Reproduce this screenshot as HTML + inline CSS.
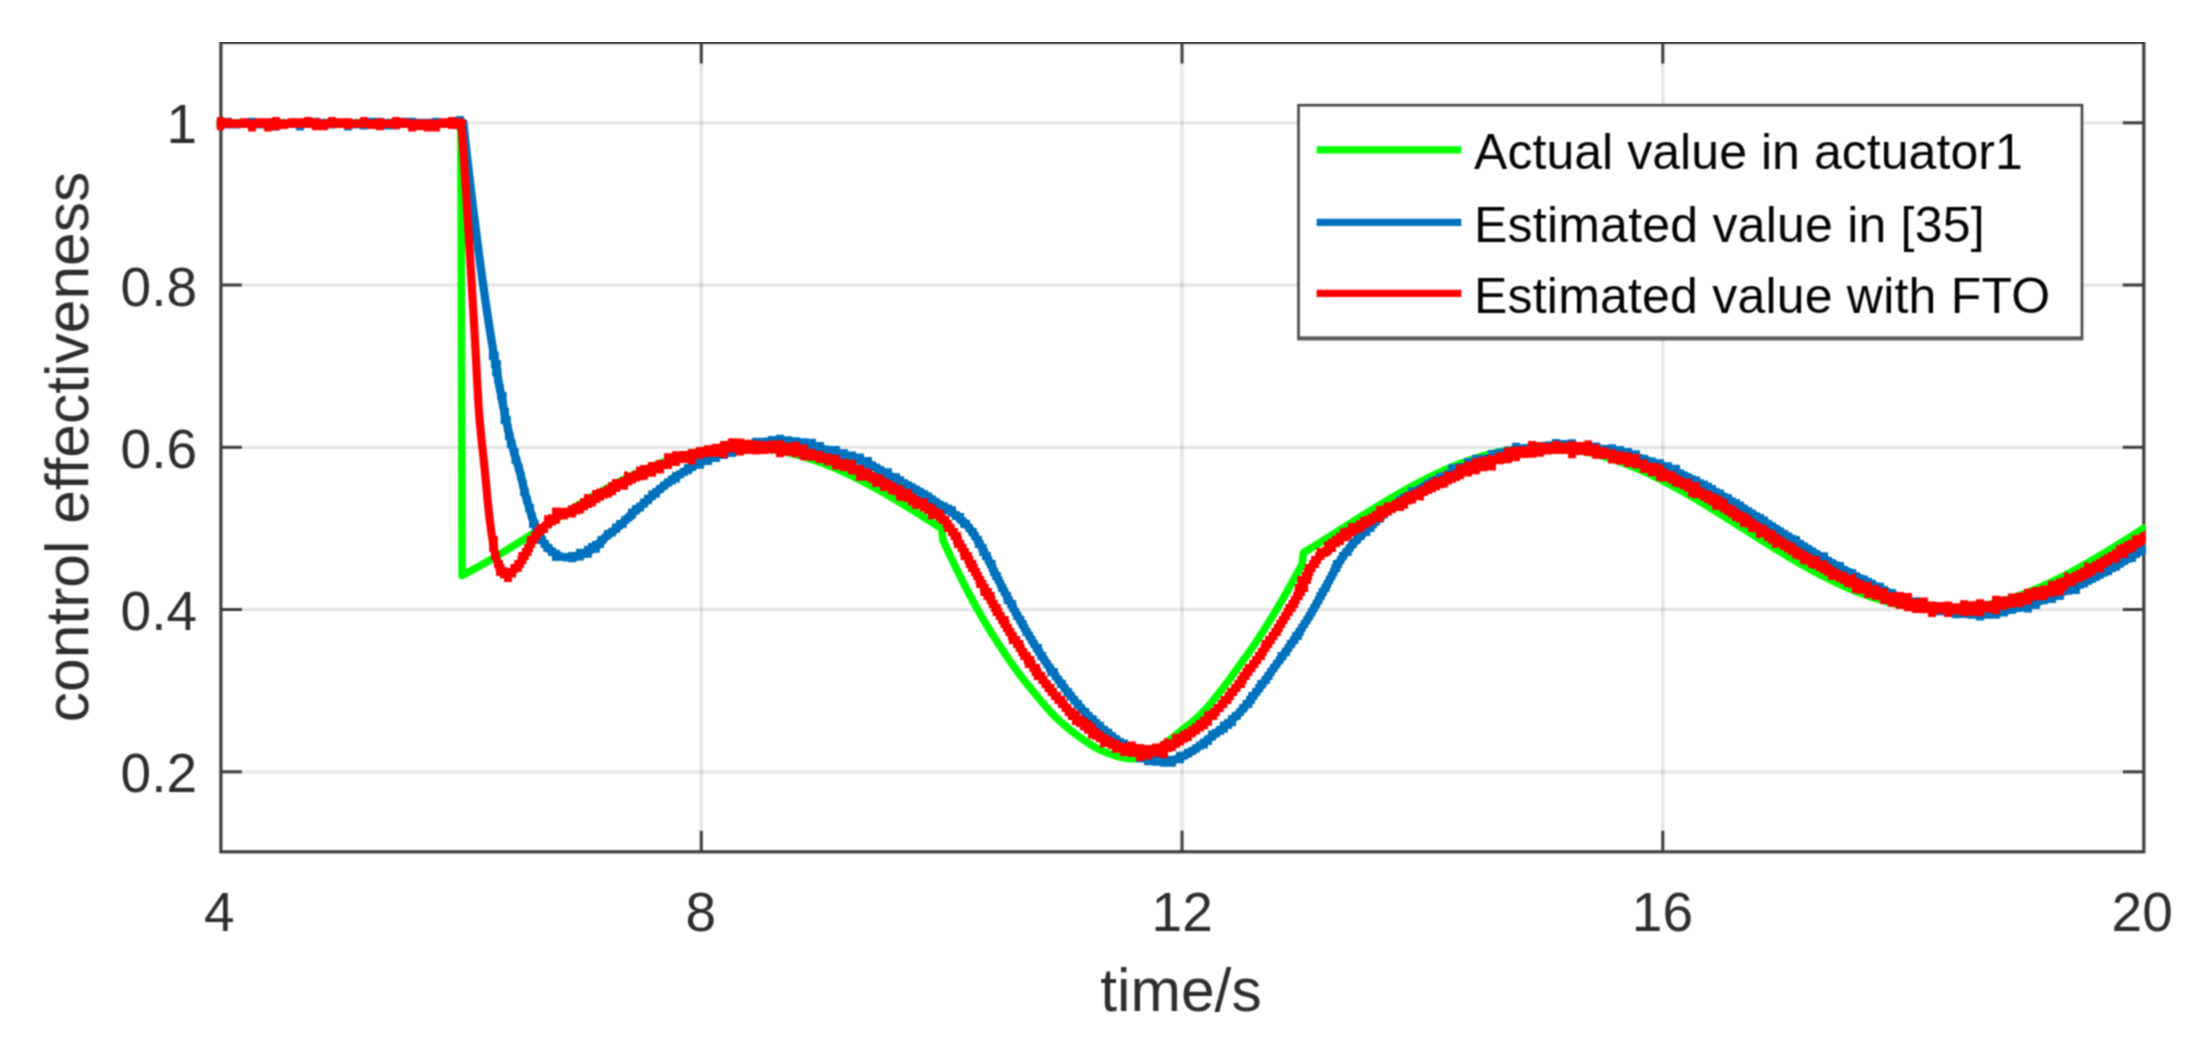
<!DOCTYPE html>
<html><head><meta charset="utf-8"><title>control effectiveness</title>
<style>
html,body{margin:0;padding:0;background:#fff;}
body{width:2208px;height:1056px;overflow:hidden;}
svg{display:block;font-family:"Liberation Sans",sans-serif;}
</style></head><body>
<svg width="2208" height="1056" viewBox="0 0 2208 1056">
<defs><filter id="soft0" x="0" y="0" width="100%" height="100%" color-interpolation-filters="sRGB"><feConvolveMatrix order="3" kernelMatrix="1 2 1 2 4 2 1 2 1" edgeMode="duplicate"/></filter></defs>
<rect width="2208" height="1056" fill="#fff"/>
<g id="all" filter="url(#soft0)">
<g id="grid">
<line x1="701.3" x2="701.3" y1="42.5" y2="851.8" stroke="#262626" stroke-opacity="0.118" stroke-width="3.3"/>
<line x1="1182.0" x2="1182.0" y1="42.5" y2="851.8" stroke="#262626" stroke-opacity="0.118" stroke-width="3.3"/>
<line x1="1662.8" x2="1662.8" y1="42.5" y2="851.8" stroke="#262626" stroke-opacity="0.118" stroke-width="3.3"/>
<line x1="220.9" x2="2143.8" y1="771.8" y2="771.8" stroke="#262626" stroke-opacity="0.118" stroke-width="3.3"/>
<line x1="220.9" x2="2143.8" y1="609.5" y2="609.5" stroke="#262626" stroke-opacity="0.118" stroke-width="3.3"/>
<line x1="220.9" x2="2143.8" y1="447.3" y2="447.3" stroke="#262626" stroke-opacity="0.118" stroke-width="3.3"/>
<line x1="220.9" x2="2143.8" y1="285.0" y2="285.0" stroke="#262626" stroke-opacity="0.118" stroke-width="3.3"/>
<line x1="220.9" x2="2143.8" y1="122.8" y2="122.8" stroke="#262626" stroke-opacity="0.118" stroke-width="3.3"/>
</g>
<g id="axes">
<rect x="220.9" y="42.5" width="1922.9" height="809.3" fill="none" stroke="#3e3e3e" stroke-width="3.2"/>
<line x1="701.3" x2="701.3" y1="851.8" y2="830.8" stroke="#3e3e3e" stroke-width="3"/>
<line x1="701.3" x2="701.3" y1="42.5" y2="63.5" stroke="#3e3e3e" stroke-width="3"/>
<line x1="1182.0" x2="1182.0" y1="851.8" y2="830.8" stroke="#3e3e3e" stroke-width="3"/>
<line x1="1182.0" x2="1182.0" y1="42.5" y2="63.5" stroke="#3e3e3e" stroke-width="3"/>
<line x1="1662.8" x2="1662.8" y1="851.8" y2="830.8" stroke="#3e3e3e" stroke-width="3"/>
<line x1="1662.8" x2="1662.8" y1="42.5" y2="63.5" stroke="#3e3e3e" stroke-width="3"/>
<line x1="220.9" x2="241.9" y1="771.8" y2="771.8" stroke="#3e3e3e" stroke-width="3"/>
<line x1="2143.8" x2="2122.8" y1="771.8" y2="771.8" stroke="#3e3e3e" stroke-width="3"/>
<line x1="220.9" x2="241.9" y1="609.5" y2="609.5" stroke="#3e3e3e" stroke-width="3"/>
<line x1="2143.8" x2="2122.8" y1="609.5" y2="609.5" stroke="#3e3e3e" stroke-width="3"/>
<line x1="220.9" x2="241.9" y1="447.3" y2="447.3" stroke="#3e3e3e" stroke-width="3"/>
<line x1="2143.8" x2="2122.8" y1="447.3" y2="447.3" stroke="#3e3e3e" stroke-width="3"/>
<line x1="220.9" x2="241.9" y1="285.0" y2="285.0" stroke="#3e3e3e" stroke-width="3"/>
<line x1="2143.8" x2="2122.8" y1="285.0" y2="285.0" stroke="#3e3e3e" stroke-width="3"/>
<line x1="220.9" x2="241.9" y1="122.8" y2="122.8" stroke="#3e3e3e" stroke-width="3"/>
<line x1="2143.8" x2="2122.8" y1="122.8" y2="122.8" stroke="#3e3e3e" stroke-width="3"/>
</g>
<clipPath id="cl"><rect x="216.7" y="30" width="1929.1" height="830"/></clipPath>
<g id="curves" clip-path="url(#cl)" fill="none" stroke-linejoin="round">
<path stroke="#00ff00" stroke-width="7.6" d="M215.7 122.8L216.9 122.8L218.1 122.8L219.3 122.8L220.5 122.8L221.7 122.8L222.9 122.8L224.1 122.8L225.3 122.8L226.5 122.8L227.7 122.8L228.9 122.8L230.1 122.8L231.3 122.8L232.5 122.8L233.7 122.8L234.9 122.8L236.1 122.8L237.3 122.8L238.5 122.8L239.7 122.8L240.9 122.8L242.1 122.8L243.3 122.8L244.5 122.8L245.7 122.8L246.9 122.8L248.1 122.8L249.3 122.8L250.5 122.8L251.8 122.8L253.0 122.8L254.2 122.8L255.4 122.8L256.6 122.8L257.8 122.8L259.0 122.8L260.2 122.8L261.4 122.8L262.6 122.8L263.8 122.8L265.0 122.8L266.2 122.8L267.4 122.8L268.6 122.8L269.8 122.8L271.0 122.8L272.2 122.8L273.4 122.8L274.6 122.8L275.8 122.8L277.0 122.8L278.2 122.8L279.4 122.8L280.6 122.8L281.8 122.8L283.0 122.8L284.2 122.8L285.4 122.8L286.6 122.8L287.8 122.8L289.0 122.8L290.2 122.8L291.4 122.8L292.6 122.8L293.8 122.8L295.0 122.8L296.2 122.8L297.4 122.8L298.6 122.8L299.8 122.8L301.0 122.8L302.2 122.8L303.4 122.8L304.6 122.8L305.8 122.8L307.0 122.8L308.2 122.8L309.4 122.8L310.6 122.8L311.8 122.8L313.0 122.8L314.3 122.8L315.5 122.8L316.7 122.8L317.9 122.8L319.1 122.8L320.3 122.8L321.5 122.8L322.7 122.8L323.9 122.8L325.1 122.8L326.3 122.8L327.5 122.8L328.7 122.8L329.9 122.8L331.1 122.8L332.3 122.8L333.5 122.8L334.7 122.8L335.9 122.8L337.1 122.8L338.3 122.8L339.5 122.8L340.7 122.8L341.9 122.8L343.1 122.8L344.3 122.8L345.5 122.8L346.7 122.8L347.9 122.8L349.1 122.8L350.3 122.8L351.5 122.8L352.7 122.8L353.9 122.8L355.1 122.8L356.3 122.8L357.5 122.8L358.7 122.8L359.9 122.8L361.1 122.8L362.3 122.8L363.5 122.8L364.7 122.8L365.9 122.8L367.1 122.8L368.3 122.8L369.5 122.8L370.7 122.8L371.9 122.8L373.1 122.8L374.3 122.8L375.5 122.8L376.8 122.8L378.0 122.8L379.2 122.8L380.4 122.8L381.6 122.8L382.8 122.8L384.0 122.8L385.2 122.8L386.4 122.8L387.6 122.8L388.8 122.8L390.0 122.8L391.2 122.8L392.4 122.8L393.6 122.8L394.8 122.8L396.0 122.8L397.2 122.8L398.4 122.8L399.6 122.8L400.8 122.8L402.0 122.8L403.2 122.8L404.4 122.8L405.6 122.8L406.8 122.8L408.0 122.8L409.2 122.8L410.4 122.8L411.6 122.8L412.8 122.8L414.0 122.8L415.2 122.8L416.4 122.8L417.6 122.8L418.8 122.8L420.0 122.8L421.2 122.8L422.4 122.8L423.6 122.8L424.8 122.8L426.0 122.8L427.2 122.8L428.4 122.8L429.6 122.8L430.8 122.8L432.0 122.8L433.2 122.8L434.4 122.8L435.6 122.8L436.8 122.8L438.1 122.8L439.3 122.8L440.5 122.8L441.7 122.8L442.9 122.8L444.1 122.8L445.3 122.8L446.5 122.8L447.7 122.8L448.9 122.8L450.1 122.8L451.3 122.8L452.5 122.8L453.7 122.8L454.9 122.8L456.1 122.8L457.3 122.8L458.5 122.8L459.7 122.8L460.9 122.8L462.1 575.5L463.3 574.9L464.5 574.2L465.7 573.6L466.9 573.0L468.1 572.3L469.3 571.7L470.5 571.0L471.7 570.4L472.9 569.7L474.1 569.1L475.3 568.4L476.5 567.7L477.7 567.1L478.9 566.4L480.1 565.7L481.3 565.0L482.5 564.3L483.7 563.7L484.9 563.0L486.1 562.3L487.3 561.6L488.5 560.9L489.7 560.2L490.9 559.5L492.1 558.8L493.3 558.1L494.5 557.3L495.7 556.6L496.9 555.9L498.1 555.2L499.3 554.5L500.6 553.7L501.8 553.0L503.0 552.3L504.2 551.5L505.4 550.8L506.6 550.1L507.8 549.3L509.0 548.6L510.2 547.9L511.4 547.1L512.6 546.4L513.8 545.6L515.0 544.9L516.2 544.1L517.4 543.4L518.6 542.6L519.8 541.9L521.0 541.1L522.2 540.4L523.4 539.6L524.6 538.8L525.8 538.1L527.0 537.3L528.2 536.6L529.4 535.8L530.6 535.0L531.8 534.3L533.0 533.5L534.2 532.8L535.4 532.0L536.6 531.2L537.8 530.5L539.0 529.7L540.2 528.9L541.4 528.2L542.6 527.4L543.8 526.6L545.0 525.9L546.2 525.1L547.4 524.3L548.6 523.6L549.8 522.8L551.0 522.1L552.2 521.3L553.4 520.5L554.6 519.8L555.8 519.0L557.0 518.3L558.2 517.5L559.4 516.7L560.6 516.0L561.9 515.2L563.1 514.5L564.3 513.7L565.5 513.0L566.7 512.2L567.9 511.5L569.1 510.7L570.3 510.0L571.5 509.2L572.7 508.5L573.9 507.8L575.1 507.0L576.3 506.3L577.5 505.5L578.7 504.8L579.9 504.1L581.1 503.4L582.3 502.6L583.5 501.9L584.7 501.2L585.9 500.5L587.1 499.7L588.3 499.0L589.5 498.3L590.7 497.6L591.9 496.9L593.1 496.2L594.3 495.5L595.5 494.8L596.7 494.1L597.9 493.4L599.1 492.7L600.3 492.0L601.5 491.4L602.7 490.7L603.9 490.0L605.1 489.3L606.3 488.7L607.5 488.0L608.7 487.3L609.9 486.7L611.1 486.0L612.3 485.4L613.5 484.7L614.7 484.1L615.9 483.5L617.1 482.8L618.3 482.2L619.5 481.6L620.7 480.9L621.9 480.3L623.1 479.7L624.4 479.1L625.6 478.5L626.8 477.9L628.0 477.3L629.2 476.7L630.4 476.1L631.6 475.5L632.8 475.0L634.0 474.4L635.2 473.8L636.4 473.3L637.6 472.7L638.8 472.2L640.0 471.6L641.2 471.1L642.4 470.5L643.6 470.0L644.8 469.5L646.0 468.9L647.2 468.4L648.4 467.9L649.6 467.4L650.8 466.9L652.0 466.4L653.2 465.9L654.4 465.4L655.6 465.0L656.8 464.5L658.0 464.0L659.2 463.6L660.4 463.1L661.6 462.6L662.8 462.2L664.0 461.8L665.2 461.3L666.4 460.9L667.6 460.5L668.8 460.1L670.0 459.7L671.2 459.3L672.4 458.9L673.6 458.5L674.8 458.1L676.0 457.7L677.2 457.3L678.4 457.0L679.6 456.6L680.8 456.3L682.0 455.9L683.2 455.6L684.4 455.2L685.6 454.9L686.9 454.6L688.1 454.3L689.3 454.0L690.5 453.7L691.7 453.4L692.9 453.1L694.1 452.8L695.3 452.5L696.5 452.3L697.7 452.0L698.9 451.8L700.1 451.5L701.3 451.3L702.5 451.0L703.7 450.8L704.9 450.6L706.1 450.4L707.3 450.2L708.5 450.0L709.7 449.8L710.9 449.6L712.1 449.4L713.3 449.3L714.5 449.1L715.7 448.9L716.9 448.8L718.1 448.6L719.3 448.5L720.5 448.4L721.7 448.3L722.9 448.1L724.1 448.0L725.3 447.9L726.5 447.8L727.7 447.8L728.9 447.7L730.1 447.6L731.3 447.6L732.5 447.5L733.7 447.4L734.9 447.4L736.1 447.4L737.3 447.3L738.5 447.3L739.7 447.3L740.9 447.3L742.1 447.3L743.3 447.3L744.5 447.3L745.7 447.3L746.9 447.4L748.2 447.4L749.4 447.5L750.6 447.5L751.8 447.6L753.0 447.6L754.2 447.7L755.4 447.8L756.6 447.9L757.8 448.0L759.0 448.1L760.2 448.2L761.4 448.3L762.6 448.4L763.8 448.6L765.0 448.7L766.2 448.8L767.4 449.0L768.6 449.1L769.8 449.3L771.0 449.5L772.2 449.7L773.4 449.8L774.6 450.0L775.8 450.2L777.0 450.5L778.2 450.7L779.4 450.9L780.6 451.1L781.8 451.3L783.0 451.6L784.2 451.8L785.4 452.1L786.6 452.4L787.8 452.6L789.0 452.9L790.2 453.2L791.4 453.5L792.6 453.8L793.8 454.1L795.0 454.4L796.2 454.7L797.4 455.0L798.6 455.3L799.8 455.7L801.0 456.0L802.2 456.4L803.4 456.7L804.6 457.1L805.8 457.5L807.0 457.8L808.2 458.2L809.4 458.6L810.7 459.0L811.9 459.4L813.1 459.8L814.3 460.2L815.5 460.6L816.7 461.0L817.9 461.5L819.1 461.9L820.3 462.3L821.5 462.8L822.7 463.2L823.9 463.7L825.1 464.2L826.3 464.6L827.5 465.1L828.7 465.6L829.9 466.1L831.1 466.6L832.3 467.1L833.5 467.6L834.7 468.1L835.9 468.6L837.1 469.1L838.3 469.6L839.5 470.2L840.7 470.7L841.9 471.2L843.1 471.8L844.3 472.3L845.5 472.9L846.7 473.5L847.9 474.0L849.1 474.6L850.3 475.2L851.5 475.7L852.7 476.3L853.9 476.9L855.1 477.5L856.3 478.1L857.5 478.7L858.7 479.3L859.9 479.9L861.1 480.5L862.3 481.2L863.5 481.8L864.7 482.4L865.9 483.0L867.1 483.7L868.3 484.3L869.5 485.0L870.7 485.6L872.0 486.3L873.2 486.9L874.4 487.6L875.6 488.2L876.8 488.9L878.0 489.6L879.2 490.2L880.4 490.9L881.6 491.6L882.8 492.3L884.0 493.0L885.2 493.7L886.4 494.3L887.6 495.0L888.8 495.7L890.0 496.4L891.2 497.1L892.4 497.9L893.6 498.6L894.8 499.3L896.0 500.0L897.2 500.7L898.4 501.4L899.6 502.1L900.8 502.9L902.0 503.6L903.2 504.3L904.4 505.1L905.6 505.8L906.8 506.5L908.0 507.3L909.2 508.0L910.4 508.7L911.6 509.5L912.8 510.2L914.0 511.0L915.2 511.7L916.4 512.5L917.6 513.2L918.8 514.0L920.0 514.7L921.2 515.5L922.4 516.2L923.6 517.0L924.8 517.8L926.0 518.5L927.2 519.3L928.4 520.0L929.6 520.8L930.8 521.6L932.0 522.3L933.2 523.1L934.5 523.8L935.7 524.6L936.9 525.4L938.1 526.1L939.3 526.9L940.5 527.7L941.7 528.4L942.9 540.0L944.1 542.6L945.3 545.3L946.5 547.9L947.7 550.5L948.9 553.0L950.1 555.6L951.3 558.1L952.5 560.6L953.7 563.1L954.9 565.6L956.1 568.1L957.3 570.5L958.5 573.0L959.7 575.4L960.9 577.8L962.1 580.2L963.3 582.6L964.5 584.9L965.7 587.2L966.9 589.6L968.1 591.9L969.3 594.1L970.5 596.4L971.7 598.6L972.9 600.9L974.1 603.1L975.3 605.3L976.5 607.5L977.7 609.6L978.9 611.7L980.1 613.9L981.3 615.9L982.5 618.0L983.7 620.1L984.9 622.1L986.1 624.1L987.3 626.1L988.5 628.1L989.7 630.0L990.9 632.0L992.1 633.9L993.3 635.8L994.5 637.7L995.7 639.6L997.0 641.5L998.2 643.3L999.4 645.2L1000.6 647.0L1001.8 648.9L1003.0 650.7L1004.2 652.5L1005.4 654.3L1006.6 656.1L1007.8 657.9L1009.0 659.6L1010.2 661.4L1011.4 663.1L1012.6 664.8L1013.8 666.5L1015.0 668.2L1016.2 669.8L1017.4 671.5L1018.6 673.1L1019.8 674.7L1021.0 676.3L1022.2 677.8L1023.4 679.4L1024.6 680.9L1025.8 682.3L1027.0 683.8L1028.2 685.3L1029.4 686.8L1030.6 688.2L1031.8 689.7L1033.0 691.2L1034.2 692.7L1035.4 694.2L1036.6 695.6L1037.8 697.1L1039.0 698.6L1040.2 700.0L1041.4 701.4L1042.6 702.8L1043.8 704.2L1045.0 705.6L1046.2 707.0L1047.4 708.3L1048.6 709.7L1049.8 711.0L1051.0 712.3L1052.2 713.6L1053.4 714.8L1054.6 716.0L1055.8 717.2L1057.0 718.4L1058.3 719.5L1059.5 720.7L1060.7 721.8L1061.9 722.8L1063.1 723.9L1064.3 725.0L1065.5 726.0L1066.7 727.0L1067.9 728.0L1069.1 729.0L1070.3 730.0L1071.5 731.0L1072.7 731.9L1073.9 732.9L1075.1 733.8L1076.3 734.7L1077.5 735.6L1078.7 736.5L1079.9 737.3L1081.1 738.2L1082.3 739.0L1083.5 739.8L1084.7 740.6L1085.9 741.4L1087.1 742.2L1088.3 743.0L1089.5 743.8L1090.7 744.6L1091.9 745.3L1093.1 746.1L1094.3 746.8L1095.5 747.6L1096.7 748.2L1097.9 748.9L1099.1 749.5L1100.3 750.1L1101.5 750.6L1102.7 751.1L1103.9 751.6L1105.1 752.1L1106.3 752.6L1107.5 753.0L1108.7 753.5L1109.9 753.9L1111.1 754.3L1112.3 754.7L1113.5 755.1L1114.7 755.6L1115.9 755.9L1117.1 756.3L1118.3 756.6L1119.5 756.9L1120.8 757.2L1122.0 757.4L1123.2 757.6L1124.4 757.8L1125.6 758.0L1126.8 758.2L1128.0 758.4L1129.2 758.5L1130.4 758.6L1131.6 758.7L1132.8 758.7L1134.0 758.7L1135.2 758.5L1136.4 758.3L1137.6 758.1L1138.8 757.7L1140.0 757.4L1141.2 757.0L1142.4 756.5L1143.6 756.0L1144.8 755.5L1146.0 754.9L1147.2 754.4L1148.4 753.8L1149.6 753.2L1150.8 752.7L1152.0 752.1L1153.2 751.5L1154.4 750.8L1155.6 750.2L1156.8 749.4L1158.0 748.7L1159.2 747.9L1160.4 747.0L1161.6 746.2L1162.8 745.3L1164.0 744.4L1165.2 743.5L1166.4 742.6L1167.6 741.7L1168.8 740.7L1170.0 739.8L1171.2 738.9L1172.4 738.0L1173.6 737.0L1174.8 736.0L1176.0 735.0L1177.2 734.0L1178.4 733.0L1179.6 732.0L1180.8 731.0L1182.0 730.0L1183.3 729.0L1184.5 728.1L1185.7 727.1L1186.9 726.2L1188.1 725.3L1189.3 724.3L1190.5 723.4L1191.7 722.4L1192.9 721.5L1194.1 720.4L1195.3 719.4L1196.5 718.3L1197.7 717.2L1198.9 716.0L1200.1 714.9L1201.3 713.6L1202.5 712.4L1203.7 711.2L1204.9 709.9L1206.1 708.6L1207.3 707.3L1208.5 705.9L1209.7 704.5L1210.9 703.1L1212.1 701.6L1213.3 700.2L1214.5 698.7L1215.7 697.2L1216.9 695.7L1218.1 694.2L1219.3 692.7L1220.5 691.2L1221.7 689.6L1222.9 688.1L1224.1 686.5L1225.3 684.9L1226.5 683.4L1227.7 681.8L1228.9 680.2L1230.1 678.5L1231.3 676.9L1232.5 675.2L1233.7 673.5L1234.9 671.8L1236.1 670.1L1237.3 668.4L1238.5 666.7L1239.7 665.1L1240.9 663.4L1242.1 661.7L1243.3 660.1L1244.6 658.4L1245.8 656.8L1247.0 655.1L1248.2 653.4L1249.4 651.7L1250.6 650.0L1251.8 648.3L1253.0 646.5L1254.2 644.8L1255.4 643.0L1256.6 641.2L1257.8 639.4L1259.0 637.6L1260.2 635.7L1261.4 633.9L1262.6 632.0L1263.8 630.1L1265.0 628.2L1266.2 626.3L1267.4 624.4L1268.6 622.5L1269.8 620.6L1271.0 618.6L1272.2 616.6L1273.4 614.7L1274.6 612.7L1275.8 610.7L1277.0 608.7L1278.2 606.7L1279.4 604.6L1280.6 602.6L1281.8 600.5L1283.0 598.5L1284.2 596.4L1285.4 594.3L1286.6 592.2L1287.8 590.1L1289.0 588.0L1290.2 585.9L1291.4 583.8L1292.6 581.6L1293.8 579.4L1295.0 577.3L1296.2 575.1L1297.4 572.9L1298.6 570.7L1299.8 568.5L1301.0 566.3L1302.2 564.0L1303.4 552.8L1304.6 552.0L1305.8 551.3L1307.1 550.6L1308.3 549.8L1309.5 549.1L1310.7 548.4L1311.9 547.6L1313.1 546.9L1314.3 546.1L1315.5 545.4L1316.7 544.6L1317.9 543.9L1319.1 543.1L1320.3 542.4L1321.5 541.6L1322.7 540.9L1323.9 540.1L1325.1 539.4L1326.3 538.6L1327.5 537.8L1328.7 537.1L1329.9 536.3L1331.1 535.6L1332.3 534.8L1333.5 534.0L1334.7 533.3L1335.9 532.5L1337.1 531.7L1338.3 531.0L1339.5 530.2L1340.7 529.4L1341.9 528.7L1343.1 527.9L1344.3 527.2L1345.5 526.4L1346.7 525.6L1347.9 524.9L1349.1 524.1L1350.3 523.3L1351.5 522.6L1352.7 521.8L1353.9 521.0L1355.1 520.3L1356.3 519.5L1357.5 518.8L1358.7 518.0L1359.9 517.2L1361.1 516.5L1362.3 515.7L1363.5 515.0L1364.7 514.2L1365.9 513.5L1367.1 512.7L1368.4 512.0L1369.6 511.2L1370.8 510.5L1372.0 509.7L1373.2 509.0L1374.4 508.3L1375.6 507.5L1376.8 506.8L1378.0 506.0L1379.2 505.3L1380.4 504.6L1381.6 503.8L1382.8 503.1L1384.0 502.4L1385.2 501.7L1386.4 500.9L1387.6 500.2L1388.8 499.5L1390.0 498.8L1391.2 498.1L1392.4 497.4L1393.6 496.7L1394.8 496.0L1396.0 495.3L1397.2 494.6L1398.4 493.9L1399.6 493.2L1400.8 492.5L1402.0 491.8L1403.2 491.1L1404.4 490.5L1405.6 489.8L1406.8 489.1L1408.0 488.5L1409.2 487.8L1410.4 487.1L1411.6 486.5L1412.8 485.8L1414.0 485.2L1415.2 484.5L1416.4 483.9L1417.6 483.2L1418.8 482.6L1420.0 482.0L1421.2 481.4L1422.4 480.7L1423.6 480.1L1424.8 479.5L1426.0 478.9L1427.2 478.3L1428.4 477.7L1429.6 477.1L1430.9 476.5L1432.1 475.9L1433.3 475.4L1434.5 474.8L1435.7 474.2L1436.9 473.6L1438.1 473.1L1439.3 472.5L1440.5 472.0L1441.7 471.4L1442.9 470.9L1444.1 470.3L1445.3 469.8L1446.5 469.3L1447.7 468.8L1448.9 468.3L1450.1 467.7L1451.3 467.2L1452.5 466.7L1453.7 466.2L1454.9 465.8L1456.1 465.3L1457.3 464.8L1458.5 464.3L1459.7 463.9L1460.9 463.4L1462.1 462.9L1463.3 462.5L1464.5 462.1L1465.7 461.6L1466.9 461.2L1468.1 460.8L1469.3 460.3L1470.5 459.9L1471.7 459.5L1472.9 459.1L1474.1 458.7L1475.3 458.3L1476.5 458.0L1477.7 457.6L1478.9 457.2L1480.1 456.8L1481.3 456.5L1482.5 456.1L1483.7 455.8L1484.9 455.5L1486.1 455.1L1487.3 454.8L1488.5 454.5L1489.7 454.2L1490.9 453.9L1492.1 453.6L1493.4 453.3L1494.6 453.0L1495.8 452.7L1497.0 452.4L1498.2 452.2L1499.4 451.9L1500.6 451.7L1501.8 451.4L1503.0 451.2L1504.2 451.0L1505.4 450.7L1506.6 450.5L1507.8 450.3L1509.0 450.1L1510.2 449.9L1511.4 449.7L1512.6 449.5L1513.8 449.4L1515.0 449.2L1516.2 449.0L1517.4 448.9L1518.6 448.7L1519.8 448.6L1521.0 448.5L1522.2 448.3L1523.4 448.2L1524.6 448.1L1525.8 448.0L1527.0 447.9L1528.2 447.8L1529.4 447.7L1530.6 447.7L1531.8 447.6L1533.0 447.5L1534.2 447.5L1535.4 447.4L1536.6 447.4L1537.8 447.4L1539.0 447.3L1540.2 447.3L1541.4 447.3L1542.6 447.3L1543.8 447.3L1545.0 447.3L1546.2 447.3L1547.4 447.4L1548.6 447.4L1549.8 447.4L1551.0 447.5L1552.2 447.5L1553.4 447.6L1554.7 447.7L1555.9 447.7L1557.1 447.8L1558.3 447.9L1559.5 448.0L1560.7 448.1L1561.9 448.2L1563.1 448.3L1564.3 448.5L1565.5 448.6L1566.7 448.7L1567.9 448.9L1569.1 449.0L1570.3 449.2L1571.5 449.4L1572.7 449.5L1573.9 449.7L1575.1 449.9L1576.3 450.1L1577.5 450.3L1578.7 450.5L1579.9 450.7L1581.1 451.0L1582.3 451.2L1583.5 451.4L1584.7 451.7L1585.9 451.9L1587.1 452.2L1588.3 452.4L1589.5 452.7L1590.7 453.0L1591.9 453.3L1593.1 453.6L1594.3 453.9L1595.5 454.2L1596.7 454.5L1597.9 454.8L1599.1 455.1L1600.3 455.5L1601.5 455.8L1602.7 456.1L1603.9 456.5L1605.1 456.8L1606.3 457.2L1607.5 457.6L1608.7 458.0L1609.9 458.3L1611.1 458.7L1612.3 459.1L1613.5 459.5L1614.7 459.9L1615.9 460.3L1617.2 460.8L1618.4 461.2L1619.6 461.6L1620.8 462.1L1622.0 462.5L1623.2 462.9L1624.4 463.4L1625.6 463.9L1626.8 464.3L1628.0 464.8L1629.2 465.3L1630.4 465.8L1631.6 466.2L1632.8 466.7L1634.0 467.2L1635.2 467.7L1636.4 468.3L1637.6 468.8L1638.8 469.3L1640.0 469.8L1641.2 470.3L1642.4 470.9L1643.6 471.4L1644.8 472.0L1646.0 472.5L1647.2 473.1L1648.4 473.6L1649.6 474.2L1650.8 474.8L1652.0 475.4L1653.2 475.9L1654.4 476.5L1655.6 477.1L1656.8 477.7L1658.0 478.3L1659.2 478.9L1660.4 479.5L1661.6 480.1L1662.8 480.7L1664.0 481.4L1665.2 482.0L1666.4 482.6L1667.6 483.2L1668.8 483.9L1670.0 484.5L1671.2 485.2L1672.4 485.8L1673.6 486.5L1674.8 487.1L1676.0 487.8L1677.2 488.5L1678.5 489.1L1679.7 489.8L1680.9 490.5L1682.1 491.1L1683.3 491.8L1684.5 492.5L1685.7 493.2L1686.9 493.9L1688.1 494.6L1689.3 495.3L1690.5 496.0L1691.7 496.7L1692.9 497.4L1694.1 498.1L1695.3 498.8L1696.5 499.5L1697.7 500.2L1698.9 500.9L1700.1 501.7L1701.3 502.4L1702.5 503.1L1703.7 503.8L1704.9 504.6L1706.1 505.3L1707.3 506.0L1708.5 506.8L1709.7 507.5L1710.9 508.3L1712.1 509.0L1713.3 509.7L1714.5 510.5L1715.7 511.2L1716.9 512.0L1718.1 512.7L1719.3 513.5L1720.5 514.2L1721.7 515.0L1722.9 515.7L1724.1 516.5L1725.3 517.2L1726.5 518.0L1727.7 518.8L1728.9 519.5L1730.1 520.3L1731.3 521.0L1732.5 521.8L1733.7 522.6L1734.9 523.3L1736.1 524.1L1737.3 524.9L1738.5 525.6L1739.7 526.4L1741.0 527.2L1742.2 527.9L1743.4 528.7L1744.6 529.4L1745.8 530.2L1747.0 531.0L1748.2 531.7L1749.4 532.5L1750.6 533.3L1751.8 534.0L1753.0 534.8L1754.2 535.6L1755.4 536.3L1756.6 537.1L1757.8 537.8L1759.0 538.6L1760.2 539.4L1761.4 540.1L1762.6 540.9L1763.8 541.6L1765.0 542.4L1766.2 543.1L1767.4 543.9L1768.6 544.6L1769.8 545.4L1771.0 546.1L1772.2 546.9L1773.4 547.6L1774.6 548.4L1775.8 549.1L1777.0 549.8L1778.2 550.6L1779.4 551.3L1780.6 552.0L1781.8 552.8L1783.0 553.5L1784.2 554.2L1785.4 554.9L1786.6 555.7L1787.8 556.4L1789.0 557.1L1790.2 557.8L1791.4 558.5L1792.6 559.2L1793.8 559.9L1795.0 560.6L1796.2 561.3L1797.4 562.0L1798.6 562.7L1799.8 563.4L1801.0 564.1L1802.2 564.8L1803.5 565.5L1804.7 566.2L1805.9 566.8L1807.1 567.5L1808.3 568.2L1809.5 568.8L1810.7 569.5L1811.9 570.2L1813.1 570.8L1814.3 571.5L1815.5 572.1L1816.7 572.8L1817.9 573.4L1819.1 574.0L1820.3 574.7L1821.5 575.3L1822.7 575.9L1823.9 576.5L1825.1 577.1L1826.3 577.7L1827.5 578.3L1828.7 578.9L1829.9 579.5L1831.1 580.1L1832.3 580.7L1833.5 581.3L1834.7 581.9L1835.9 582.5L1837.1 583.0L1838.3 583.6L1839.5 584.1L1840.7 584.7L1841.9 585.2L1843.1 585.8L1844.3 586.3L1845.5 586.9L1846.7 587.4L1847.9 587.9L1849.1 588.4L1850.3 588.9L1851.5 589.4L1852.7 589.9L1853.9 590.4L1855.1 590.9L1856.3 591.4L1857.5 591.9L1858.7 592.4L1859.9 592.8L1861.1 593.3L1862.3 593.8L1863.5 594.2L1864.8 594.7L1866.0 595.1L1867.2 595.5L1868.4 595.9L1869.6 596.4L1870.8 596.8L1872.0 597.2L1873.2 597.6L1874.4 598.0L1875.6 598.4L1876.8 598.8L1878.0 599.1L1879.2 599.5L1880.4 599.9L1881.6 600.2L1882.8 600.6L1884.0 600.9L1885.2 601.3L1886.4 601.6L1887.6 601.9L1888.8 602.3L1890.0 602.6L1891.2 602.9L1892.4 603.2L1893.6 603.5L1894.8 603.8L1896.0 604.0L1897.2 604.3L1898.4 604.6L1899.6 604.8L1900.8 605.1L1902.0 605.3L1903.2 605.6L1904.4 605.8L1905.6 606.0L1906.8 606.3L1908.0 606.5L1909.2 606.7L1910.4 606.9L1911.6 607.1L1912.8 607.2L1914.0 607.4L1915.2 607.6L1916.4 607.8L1917.6 607.9L1918.8 608.1L1920.0 608.2L1921.2 608.3L1922.4 608.5L1923.6 608.6L1924.8 608.7L1926.0 608.8L1927.3 608.9L1928.5 609.0L1929.7 609.1L1930.9 609.2L1932.1 609.2L1933.3 609.3L1934.5 609.4L1935.7 609.4L1936.9 609.4L1938.1 609.5L1939.3 609.5L1940.5 609.5L1941.7 609.5L1942.9 609.5L1944.1 609.5L1945.3 609.5L1946.5 609.5L1947.7 609.5L1948.9 609.5L1950.1 609.4L1951.3 609.4L1952.5 609.3L1953.7 609.3L1954.9 609.2L1956.1 609.1L1957.3 609.1L1958.5 609.0L1959.7 608.9L1960.9 608.8L1962.1 608.7L1963.3 608.6L1964.5 608.4L1965.7 608.3L1966.9 608.2L1968.1 608.0L1969.3 607.9L1970.5 607.7L1971.7 607.5L1972.9 607.4L1974.1 607.2L1975.3 607.0L1976.5 606.8L1977.7 606.6L1978.9 606.4L1980.1 606.2L1981.3 606.0L1982.5 605.7L1983.7 605.5L1984.9 605.3L1986.1 605.0L1987.3 604.8L1988.6 604.5L1989.8 604.2L1991.0 603.9L1992.2 603.7L1993.4 603.4L1994.6 603.1L1995.8 602.8L1997.0 602.5L1998.2 602.2L1999.4 601.8L2000.6 601.5L2001.8 601.2L2003.0 600.8L2004.2 600.5L2005.4 600.1L2006.6 599.8L2007.8 599.4L2009.0 599.0L2010.2 598.6L2011.4 598.3L2012.6 597.9L2013.8 597.5L2015.0 597.1L2016.2 596.6L2017.4 596.2L2018.6 595.8L2019.8 595.4L2021.0 594.9L2022.2 594.5L2023.4 594.1L2024.6 593.6L2025.8 593.1L2027.0 592.7L2028.2 592.2L2029.4 591.7L2030.6 591.3L2031.8 590.8L2033.0 590.3L2034.2 589.8L2035.4 589.3L2036.6 588.8L2037.8 588.3L2039.0 587.7L2040.2 587.2L2041.4 586.7L2042.6 586.1L2043.8 585.6L2045.0 585.1L2046.2 584.5L2047.4 584.0L2048.6 583.4L2049.8 582.8L2051.1 582.3L2052.3 581.7L2053.5 581.1L2054.7 580.5L2055.9 579.9L2057.1 579.3L2058.3 578.7L2059.5 578.1L2060.7 577.5L2061.9 576.9L2063.1 576.3L2064.3 575.7L2065.5 575.1L2066.7 574.4L2067.9 573.8L2069.1 573.2L2070.3 572.5L2071.5 571.9L2072.7 571.2L2073.9 570.6L2075.1 569.9L2076.3 569.3L2077.5 568.6L2078.7 568.0L2079.9 567.3L2081.1 566.6L2082.3 565.9L2083.5 565.3L2084.7 564.6L2085.9 563.9L2087.1 563.2L2088.3 562.5L2089.5 561.8L2090.7 561.1L2091.9 560.4L2093.1 559.7L2094.3 559.0L2095.5 558.3L2096.7 557.6L2097.9 556.9L2099.1 556.1L2100.3 555.4L2101.5 554.7L2102.7 554.0L2103.9 553.3L2105.1 552.5L2106.3 551.8L2107.5 551.1L2108.7 550.3L2109.9 549.6L2111.1 548.8L2112.3 548.1L2113.6 547.4L2114.8 546.6L2116.0 545.9L2117.2 545.1L2118.4 544.4L2119.6 543.6L2120.8 542.9L2122.0 542.1L2123.2 541.4L2124.4 540.6L2125.6 539.9L2126.8 539.1L2128.0 538.3L2129.2 537.6L2130.4 536.8L2131.6 536.1L2132.8 535.3L2134.0 534.5L2135.2 533.8L2136.4 533.0L2137.6 532.2L2138.8 531.5L2140.0 530.7L2141.2 530.0L2142.4 529.2L2143.6 528.4L2144.8 527.7L2146.0 526.9"/>
<path stroke="#0072bd" stroke-width="8.4" d="M215.7 123.6L216.9 123.6L218.1 123.6L219.3 123.6L220.5 123.6L221.7 123.6L222.9 123.6L224.1 123.6L225.3 123.6L226.5 123.6L227.7 123.6L228.9 123.6L230.1 123.6L231.3 123.6L232.5 123.6L233.7 123.6L234.9 123.6L236.1 123.6L237.3 123.6L238.5 123.6L239.7 123.6L240.9 123.6L242.1 123.6L243.3 123.6L244.5 123.6L245.7 123.6L246.9 123.6L248.1 123.6L249.3 123.6L250.5 123.6L251.8 123.6L253.0 123.6L254.2 123.6L255.4 123.6L256.6 123.6L257.8 123.6L259.0 123.6L260.2 123.6L261.4 123.6L262.6 123.6L263.8 123.6L265.0 123.6L266.2 123.6L267.4 123.6L268.6 123.6L269.8 123.6L271.0 123.6L272.2 123.6L273.4 123.6L274.6 123.6L275.8 123.6L277.0 123.6L278.2 123.6L279.4 123.6L280.6 123.6L281.8 123.6L283.0 123.6L284.2 123.6L285.4 123.6L286.6 123.6L287.8 123.6L289.0 123.6L290.2 123.6L291.4 123.6L292.6 123.6L293.8 123.6L295.0 123.6L296.2 123.6L297.4 123.6L298.6 123.6L299.8 123.6L301.0 123.6L302.2 123.6L303.4 123.6L304.6 123.6L305.8 123.6L307.0 123.6L308.2 123.6L309.4 123.6L310.6 123.6L311.8 123.6L313.0 123.6L314.3 123.6L315.5 123.6L316.7 123.6L317.9 123.6L319.1 123.6L320.3 123.6L321.5 123.6L322.7 123.6L323.9 123.6L325.1 123.6L326.3 123.6L327.5 123.6L328.7 123.6L329.9 123.6L331.1 123.6L332.3 123.6L333.5 123.6L334.7 123.6L335.9 123.6L337.1 123.6L338.3 123.6L339.5 123.6L340.7 123.6L341.9 123.6L343.1 123.6L344.3 123.6L345.5 123.6L346.7 123.6L347.9 123.6L349.1 123.6L350.3 123.6L351.5 123.6L352.7 123.6L353.9 123.6L355.1 123.6L356.3 123.6L357.5 123.6L358.7 123.6L359.9 123.6L361.1 123.6L362.3 123.6L363.5 123.6L364.7 123.6L365.9 123.6L367.1 123.6L368.3 123.6L369.5 123.6L370.7 123.6L371.9 123.6L373.1 123.6L374.3 123.6L375.5 123.6L376.8 123.6L378.0 123.6L379.2 123.6L380.4 123.6L381.6 123.6L382.8 123.6L384.0 123.6L385.2 123.6L386.4 123.6L387.6 123.6L388.8 123.6L390.0 123.6L391.2 123.6L392.4 123.6L393.6 123.6L394.8 123.6L396.0 123.6L397.2 123.6L398.4 123.6L399.6 123.6L400.8 123.6L402.0 123.6L403.2 123.6L404.4 123.6L405.6 123.6L406.8 123.6L408.0 123.6L409.2 123.6L410.4 123.6L411.6 123.6L412.8 123.6L414.0 123.6L415.2 123.6L416.4 123.6L417.6 123.6L418.8 123.6L420.0 123.6L421.2 123.6L422.4 123.6L423.6 123.6L424.8 123.6L426.0 123.6L427.2 123.6L428.4 123.6L429.6 123.6L430.8 123.6L432.0 123.6L433.2 123.6L434.4 123.6L435.6 123.6L436.8 123.6L438.1 123.6L439.3 123.6L440.5 123.6L441.7 123.6L442.9 123.6L444.1 123.6L445.3 123.6L446.5 123.6L447.7 123.6L448.9 123.6L450.1 123.6L451.3 123.6L452.5 123.6L453.7 123.6L454.9 123.6L456.1 123.6L457.3 123.6L458.5 123.6L459.7 123.6L460.9 123.6L462.1 122.8L463.3 122.8L464.5 134.0L465.7 144.8L466.9 155.4L468.1 165.9L469.3 176.3L470.5 186.5L471.7 196.6L472.9 206.5L474.1 216.2L475.3 225.8L476.5 235.3L477.7 244.6L478.9 253.7L480.1 262.7L481.3 271.5L482.5 280.2L483.7 288.7L484.9 297.1L486.1 305.3L487.3 313.4L488.5 321.2L489.7 329.0L490.9 336.5L492.1 343.9L493.3 351.2L494.5 358.4L495.7 365.4L496.9 372.4L498.1 379.2L499.3 385.8L500.6 392.3L501.8 398.7L503.0 404.9L504.2 410.9L505.4 416.8L506.6 422.4L507.8 427.9L509.0 433.2L510.2 438.2L511.4 443.0L512.6 447.5L513.8 451.6L515.0 455.5L516.2 459.4L517.4 463.3L518.6 467.3L519.8 471.6L521.0 476.2L522.2 481.2L523.4 486.3L524.6 491.3L525.8 495.9L527.0 500.2L528.2 504.4L529.4 508.4L530.6 512.2L531.8 515.8L533.0 519.4L534.2 522.9L535.4 526.3L536.6 529.4L537.8 532.2L539.0 534.6L540.2 536.9L541.4 538.9L542.6 540.9L543.8 542.6L545.0 544.2L546.2 545.7L547.4 547.1L548.6 548.4L549.8 549.6L551.0 550.8L552.2 551.8L553.4 552.7L554.6 553.4L555.8 554.0L557.0 554.7L558.2 555.3L559.4 555.8L560.6 556.3L561.9 556.7L563.1 557.0L564.3 557.2L565.5 557.3L566.7 557.3L567.9 557.3L569.1 557.3L570.3 557.3L571.5 557.3L572.7 557.3L573.9 557.3L575.1 557.1L576.3 556.7L577.5 556.3L578.7 555.8L579.9 555.3L581.1 554.7L582.3 554.1L583.5 553.6L584.7 553.0L585.9 552.5L587.1 551.9L588.3 551.3L589.5 550.7L590.7 550.0L591.9 549.3L593.1 548.5L594.3 547.7L595.5 546.9L596.7 546.0L597.9 544.9L599.1 543.7L600.3 542.4L601.5 541.1L602.7 539.7L603.9 538.4L605.1 537.2L606.3 536.1L607.5 535.1L608.7 534.1L609.9 533.3L611.1 532.4L612.3 531.6L613.5 530.8L614.7 529.9L615.9 529.0L617.1 528.1L618.3 527.1L619.5 526.1L620.7 524.9L621.9 523.7L623.1 522.4L624.4 521.2L625.6 519.9L626.8 518.6L628.0 517.4L629.2 516.3L630.4 515.1L631.6 514.1L632.8 513.0L634.0 512.0L635.2 511.0L636.4 509.9L637.6 508.9L638.8 507.9L640.0 506.9L641.2 505.8L642.4 504.7L643.6 503.7L644.8 502.6L646.0 501.5L647.2 500.4L648.4 499.3L649.6 498.2L650.8 497.1L652.0 496.0L653.2 494.9L654.4 493.8L655.6 492.8L656.8 491.8L658.0 490.7L659.2 489.7L660.4 488.7L661.6 487.7L662.8 486.7L664.0 485.7L665.2 484.8L666.4 483.8L667.6 482.9L668.8 482.0L670.0 481.1L671.2 480.2L672.4 479.3L673.6 478.5L674.8 477.7L676.0 476.9L677.2 476.1L678.4 475.3L679.6 474.5L680.8 473.8L682.0 473.0L683.2 472.3L684.4 471.6L685.6 470.8L686.9 470.1L688.1 469.4L689.3 468.7L690.5 468.0L691.7 467.2L692.9 466.5L694.1 465.9L695.3 465.2L696.5 464.5L697.7 463.9L698.9 463.2L700.1 462.6L701.3 462.0L702.5 461.5L703.7 461.0L704.9 460.5L706.1 460.0L707.3 459.5L708.5 459.1L709.7 458.6L710.9 458.2L712.1 457.7L713.3 457.3L714.5 456.8L715.7 456.3L716.9 455.8L718.1 455.3L719.3 454.8L720.5 454.3L721.7 453.7L722.9 453.2L724.1 452.7L725.3 452.1L726.5 451.6L727.7 451.2L728.9 450.7L730.1 450.2L731.3 449.8L732.5 449.3L733.7 448.9L734.9 448.5L736.1 448.1L737.3 447.7L738.5 447.3L739.7 447.0L740.9 446.6L742.1 446.3L743.3 446.0L744.5 445.6L745.7 445.3L746.9 445.0L748.2 444.8L749.4 444.5L750.6 444.3L751.8 444.0L753.0 443.8L754.2 443.6L755.4 443.4L756.6 443.2L757.8 443.0L759.0 442.9L760.2 442.7L761.4 442.5L762.6 442.3L763.8 442.2L765.0 442.0L766.2 441.9L767.4 441.7L768.6 441.6L769.8 441.5L771.0 441.4L772.2 441.4L773.4 441.3L774.6 441.3L775.8 441.3L777.0 441.3L778.2 441.3L779.4 441.4L780.6 441.4L781.8 441.5L783.0 441.5L784.2 441.6L785.4 441.7L786.6 441.8L787.8 441.9L789.0 442.0L790.2 442.1L791.4 442.2L792.6 442.4L793.8 442.5L795.0 442.6L796.2 442.8L797.4 442.9L798.6 443.1L799.8 443.3L801.0 443.4L802.2 443.6L803.4 443.8L804.6 444.0L805.8 444.2L807.0 444.3L808.2 444.5L809.4 444.7L810.7 444.9L811.9 445.2L813.1 445.5L814.3 445.9L815.5 446.2L816.7 446.6L817.9 447.0L819.1 447.5L820.3 447.9L821.5 448.3L822.7 448.8L823.9 449.2L825.1 449.6L826.3 450.0L827.5 450.3L828.7 450.7L829.9 451.0L831.1 451.4L832.3 451.7L833.5 452.0L834.7 452.4L835.9 452.7L837.1 453.0L838.3 453.4L839.5 453.7L840.7 454.0L841.9 454.3L843.1 454.7L844.3 455.0L845.5 455.3L846.7 455.7L847.9 456.0L849.1 456.4L850.3 456.8L851.5 457.1L852.7 457.5L853.9 457.9L855.1 458.3L856.3 458.7L857.5 459.1L858.7 459.5L859.9 460.0L861.1 460.4L862.3 460.9L863.5 461.4L864.7 462.0L865.9 462.5L867.1 463.1L868.3 463.6L869.5 464.2L870.7 464.9L872.0 465.5L873.2 466.1L874.4 466.8L875.6 467.4L876.8 468.1L878.0 468.8L879.2 469.4L880.4 470.1L881.6 470.8L882.8 471.5L884.0 472.2L885.2 472.9L886.4 473.6L887.6 474.3L888.8 475.0L890.0 475.6L891.2 476.3L892.4 477.0L893.6 477.6L894.8 478.3L896.0 478.9L897.2 479.6L898.4 480.2L899.6 480.9L900.8 481.5L902.0 482.1L903.2 482.8L904.4 483.4L905.6 484.0L906.8 484.7L908.0 485.3L909.2 486.0L910.4 486.6L911.6 487.3L912.8 487.9L914.0 488.6L915.2 489.2L916.4 489.9L917.6 490.5L918.8 491.2L920.0 491.9L921.2 492.6L922.4 493.3L923.6 494.0L924.8 494.7L926.0 495.4L927.2 496.1L928.4 496.9L929.6 497.7L930.8 498.6L932.0 499.4L933.2 500.3L934.5 501.1L935.7 501.9L936.9 502.7L938.1 503.5L939.3 504.3L940.5 505.1L941.7 505.9L942.9 506.6L944.1 507.3L945.3 508.1L946.5 508.8L947.7 509.6L948.9 510.4L950.1 511.1L951.3 511.9L952.5 512.7L953.7 513.6L954.9 514.4L956.1 515.3L957.3 516.2L958.5 517.1L959.7 518.1L960.9 519.1L962.1 520.2L963.3 521.3L964.5 522.5L965.7 523.8L966.9 525.2L968.1 526.6L969.3 528.0L970.5 529.6L971.7 531.2L972.9 532.8L974.1 534.6L975.3 536.4L976.5 538.3L977.7 540.2L978.9 542.2L980.1 544.3L981.3 546.5L982.5 548.6L983.7 550.9L984.9 553.2L986.1 555.5L987.3 557.8L988.5 560.2L989.7 562.5L990.9 564.9L992.1 567.3L993.3 569.7L994.5 572.1L995.7 574.5L997.0 576.9L998.2 579.3L999.4 581.7L1000.6 584.1L1001.8 586.4L1003.0 588.8L1004.2 591.1L1005.4 593.4L1006.6 595.7L1007.8 598.0L1009.0 600.2L1010.2 602.5L1011.4 604.7L1012.6 606.9L1013.8 609.1L1015.0 611.2L1016.2 613.4L1017.4 615.5L1018.6 617.6L1019.8 619.7L1021.0 621.9L1022.2 624.0L1023.4 626.0L1024.6 628.1L1025.8 630.2L1027.0 632.2L1028.2 634.2L1029.4 636.2L1030.6 638.2L1031.8 640.2L1033.0 642.2L1034.2 644.1L1035.4 646.1L1036.6 648.0L1037.8 649.9L1039.0 651.7L1040.2 653.6L1041.4 655.5L1042.6 657.3L1043.8 659.1L1045.0 660.9L1046.2 662.7L1047.4 664.5L1048.6 666.2L1049.8 668.0L1051.0 669.7L1052.2 671.4L1053.4 673.1L1054.6 674.7L1055.8 676.4L1057.0 678.0L1058.3 679.6L1059.5 681.2L1060.7 682.8L1061.9 684.3L1063.1 685.9L1064.3 687.5L1065.5 689.0L1066.7 690.5L1067.9 692.1L1069.1 693.6L1070.3 695.1L1071.5 696.6L1072.7 698.1L1073.9 699.6L1075.1 701.0L1076.3 702.5L1077.5 704.0L1078.7 705.4L1079.9 706.8L1081.1 708.1L1082.3 709.4L1083.5 710.7L1084.7 712.0L1085.9 713.2L1087.1 714.5L1088.3 715.7L1089.5 716.9L1090.7 718.1L1091.9 719.2L1093.1 720.3L1094.3 721.5L1095.5 722.6L1096.7 723.7L1097.9 724.7L1099.1 725.8L1100.3 726.8L1101.5 727.9L1102.7 728.9L1103.9 729.9L1105.1 730.9L1106.3 731.8L1107.5 732.8L1108.7 733.8L1109.9 734.7L1111.1 735.6L1112.3 736.6L1113.5 737.5L1114.7 738.4L1115.9 739.3L1117.1 740.2L1118.3 741.1L1119.5 741.9L1120.8 742.8L1122.0 743.7L1123.2 744.5L1124.4 745.3L1125.6 746.2L1126.8 747.0L1128.0 747.7L1129.2 748.5L1130.4 749.3L1131.6 750.0L1132.8 750.7L1134.0 751.4L1135.2 752.1L1136.4 752.7L1137.6 753.3L1138.8 753.9L1140.0 754.5L1141.2 755.1L1142.4 755.6L1143.6 756.1L1144.8 756.6L1146.0 757.1L1147.2 757.6L1148.4 758.0L1149.6 758.4L1150.8 758.8L1152.0 759.2L1153.2 759.5L1154.4 759.8L1155.6 760.1L1156.8 760.4L1158.0 760.6L1159.2 760.8L1160.4 761.0L1161.6 761.1L1162.8 761.2L1164.0 761.2L1165.2 761.2L1166.4 761.2L1167.6 761.1L1168.8 761.0L1170.0 760.8L1171.2 760.6L1172.4 760.3L1173.6 760.0L1174.8 759.6L1176.0 759.2L1177.2 758.8L1178.4 758.3L1179.6 757.8L1180.8 757.3L1182.0 756.7L1183.3 756.1L1184.5 755.5L1185.7 754.8L1186.9 754.2L1188.1 753.5L1189.3 752.8L1190.5 752.1L1191.7 751.3L1192.9 750.5L1194.1 749.8L1195.3 748.9L1196.5 748.1L1197.7 747.3L1198.9 746.4L1200.1 745.5L1201.3 744.6L1202.5 743.7L1203.7 742.8L1204.9 741.9L1206.1 741.0L1207.3 740.1L1208.5 739.1L1209.7 738.2L1210.9 737.2L1212.1 736.3L1213.3 735.3L1214.5 734.4L1215.7 733.4L1216.9 732.5L1218.1 731.5L1219.3 730.5L1220.5 729.6L1221.7 728.7L1222.9 727.7L1224.1 726.8L1225.3 725.8L1226.5 724.9L1227.7 723.9L1228.9 722.9L1230.1 721.9L1231.3 720.8L1232.5 719.7L1233.7 718.6L1234.9 717.4L1236.1 716.2L1237.3 715.0L1238.5 713.8L1239.7 712.5L1240.9 711.2L1242.1 709.9L1243.3 708.5L1244.6 707.1L1245.8 705.7L1247.0 704.2L1248.2 702.8L1249.4 701.3L1250.6 699.8L1251.8 698.3L1253.0 696.7L1254.2 695.2L1255.4 693.6L1256.6 692.0L1257.8 690.4L1259.0 688.8L1260.2 687.1L1261.4 685.5L1262.6 683.8L1263.8 682.1L1265.0 680.5L1266.2 678.8L1267.4 677.0L1268.6 675.3L1269.8 673.6L1271.0 671.9L1272.2 670.1L1273.4 668.5L1274.6 666.9L1275.8 665.3L1277.0 663.6L1278.2 662.0L1279.4 660.4L1280.6 658.8L1281.8 657.1L1283.0 655.5L1284.2 653.8L1285.4 652.2L1286.6 650.5L1287.8 648.8L1289.0 647.1L1290.2 645.4L1291.4 643.7L1292.6 641.9L1293.8 640.2L1295.0 638.4L1296.2 636.6L1297.4 634.8L1298.6 633.0L1299.8 631.2L1301.0 629.4L1302.2 627.5L1303.4 625.7L1304.6 623.8L1305.8 621.9L1307.1 620.0L1308.3 618.0L1309.5 616.0L1310.7 614.0L1311.9 611.9L1313.1 609.8L1314.3 607.7L1315.5 605.6L1316.7 603.5L1317.9 601.4L1319.1 599.2L1320.3 597.0L1321.5 594.9L1322.7 592.7L1323.9 590.4L1325.1 588.2L1326.3 586.0L1327.5 583.7L1328.7 581.5L1329.9 579.2L1331.1 576.9L1332.3 574.7L1333.5 572.4L1334.7 570.2L1335.9 568.1L1337.1 566.0L1338.3 563.9L1339.5 561.9L1340.7 560.0L1341.9 558.1L1343.1 556.4L1344.3 554.7L1345.5 553.1L1346.7 551.6L1347.9 550.1L1349.1 548.6L1350.3 547.2L1351.5 545.8L1352.7 544.4L1353.9 543.0L1355.1 541.7L1356.3 540.5L1357.5 539.3L1358.7 538.0L1359.9 536.8L1361.1 535.6L1362.3 534.5L1363.5 533.3L1364.7 532.1L1365.9 531.0L1367.1 529.8L1368.4 528.6L1369.6 527.5L1370.8 526.3L1372.0 525.2L1373.2 524.0L1374.4 522.9L1375.6 521.8L1376.8 520.7L1378.0 519.6L1379.2 518.5L1380.4 517.4L1381.6 516.4L1382.8 515.3L1384.0 514.3L1385.2 513.2L1386.4 512.2L1387.6 511.1L1388.8 510.1L1390.0 509.1L1391.2 508.1L1392.4 507.0L1393.6 506.0L1394.8 505.0L1396.0 504.0L1397.2 503.0L1398.4 502.1L1399.6 501.3L1400.8 500.5L1402.0 499.7L1403.2 498.9L1404.4 498.2L1405.6 497.4L1406.8 496.7L1408.0 495.9L1409.2 495.2L1410.4 494.5L1411.6 493.8L1412.8 493.0L1414.0 492.3L1415.2 491.6L1416.4 490.9L1417.6 490.2L1418.8 489.5L1420.0 488.8L1421.2 488.1L1422.4 487.5L1423.6 486.8L1424.8 486.1L1426.0 485.5L1427.2 484.8L1428.4 484.1L1429.6 483.5L1430.9 482.8L1432.1 482.2L1433.3 481.5L1434.5 480.9L1435.7 480.3L1436.9 479.6L1438.1 479.0L1439.3 478.4L1440.5 477.8L1441.7 477.2L1442.9 476.6L1444.1 476.0L1445.3 475.4L1446.5 474.8L1447.7 474.3L1448.9 473.7L1450.1 473.1L1451.3 472.6L1452.5 472.0L1453.7 471.5L1454.9 470.9L1456.1 470.4L1457.3 469.9L1458.5 469.4L1459.7 468.8L1460.9 468.3L1462.1 467.8L1463.3 467.3L1464.5 466.8L1465.7 466.3L1466.9 465.8L1468.1 465.3L1469.3 464.9L1470.5 464.4L1471.7 463.9L1472.9 463.5L1474.1 463.0L1475.3 462.6L1476.5 462.1L1477.7 461.7L1478.9 461.3L1480.1 460.8L1481.3 460.4L1482.5 460.0L1483.7 459.6L1484.9 459.1L1486.1 458.7L1487.3 458.3L1488.5 457.9L1489.7 457.5L1490.9 457.1L1492.1 456.7L1493.4 456.3L1494.6 455.9L1495.8 455.5L1497.0 455.1L1498.2 454.8L1499.4 454.4L1500.6 454.1L1501.8 453.7L1503.0 453.4L1504.2 453.1L1505.4 452.7L1506.6 452.4L1507.8 452.1L1509.0 451.8L1510.2 451.5L1511.4 451.2L1512.6 450.9L1513.8 450.6L1515.0 450.4L1516.2 450.1L1517.4 449.9L1518.6 449.6L1519.8 449.4L1521.0 449.2L1522.2 449.0L1523.4 448.8L1524.6 448.6L1525.8 448.5L1527.0 448.3L1528.2 448.1L1529.4 448.0L1530.6 447.8L1531.8 447.6L1533.0 447.5L1534.2 447.3L1535.4 447.2L1536.6 447.1L1537.8 446.9L1539.0 446.8L1540.2 446.7L1541.4 446.5L1542.6 446.4L1543.8 446.3L1545.0 446.2L1546.2 446.1L1547.4 446.0L1548.6 445.9L1549.8 445.8L1551.0 445.7L1552.2 445.7L1553.4 445.6L1554.7 445.5L1555.9 445.5L1557.1 445.5L1558.3 445.5L1559.5 445.5L1560.7 445.5L1561.9 445.5L1563.1 445.5L1564.3 445.6L1565.5 445.6L1566.7 445.6L1567.9 445.7L1569.1 445.7L1570.3 445.7L1571.5 445.8L1572.7 445.9L1573.9 445.9L1575.1 446.0L1576.3 446.0L1577.5 446.1L1578.7 446.2L1579.9 446.3L1581.1 446.4L1582.3 446.5L1583.5 446.6L1584.7 446.7L1585.9 446.8L1587.1 446.9L1588.3 447.1L1589.5 447.2L1590.7 447.4L1591.9 447.5L1593.1 447.7L1594.3 447.8L1595.5 448.0L1596.7 448.2L1597.9 448.3L1599.1 448.5L1600.3 448.7L1601.5 448.9L1602.7 449.1L1603.9 449.3L1605.1 449.5L1606.3 449.7L1607.5 450.0L1608.7 450.2L1609.9 450.4L1611.1 450.7L1612.3 450.9L1613.5 451.2L1614.7 451.4L1615.9 451.7L1617.2 451.9L1618.4 452.2L1619.6 452.5L1620.8 452.8L1622.0 453.1L1623.2 453.4L1624.4 453.7L1625.6 454.0L1626.8 454.3L1628.0 454.6L1629.2 454.9L1630.4 455.2L1631.6 455.6L1632.8 455.9L1634.0 456.3L1635.2 456.6L1636.4 457.0L1637.6 457.3L1638.8 457.7L1640.0 458.0L1641.2 458.4L1642.4 458.8L1643.6 459.2L1644.8 459.6L1646.0 460.0L1647.2 460.4L1648.4 460.8L1649.6 461.2L1650.8 461.6L1652.0 462.0L1653.2 462.4L1654.4 462.8L1655.6 463.3L1656.8 463.7L1658.0 464.2L1659.2 464.6L1660.4 465.1L1661.6 465.5L1662.8 466.0L1664.0 466.5L1665.2 467.0L1666.4 467.5L1667.6 468.0L1668.8 468.5L1670.0 469.0L1671.2 469.5L1672.4 470.0L1673.6 470.6L1674.8 471.1L1676.0 471.6L1677.2 472.2L1678.5 472.7L1679.7 473.3L1680.9 473.8L1682.1 474.4L1683.3 475.0L1684.5 475.6L1685.7 476.1L1686.9 476.7L1688.1 477.3L1689.3 477.9L1690.5 478.5L1691.7 479.1L1692.9 479.7L1694.1 480.3L1695.3 480.9L1696.5 481.6L1697.7 482.2L1698.9 482.8L1700.1 483.4L1701.3 484.1L1702.5 484.7L1703.7 485.4L1704.9 486.0L1706.1 486.7L1707.3 487.3L1708.5 488.0L1709.7 488.6L1710.9 489.3L1712.1 490.0L1713.3 490.6L1714.5 491.3L1715.7 492.0L1716.9 492.7L1718.1 493.4L1719.3 494.1L1720.5 494.7L1721.7 495.4L1722.9 496.1L1724.1 496.8L1725.3 497.5L1726.5 498.2L1727.7 499.0L1728.9 499.7L1730.1 500.4L1731.3 501.1L1732.5 501.8L1733.7 502.5L1734.9 503.3L1736.1 504.0L1737.3 504.7L1738.5 505.4L1739.7 506.2L1741.0 506.9L1742.2 507.6L1743.4 508.4L1744.6 509.1L1745.8 509.9L1747.0 510.6L1748.2 511.3L1749.4 512.1L1750.6 512.8L1751.8 513.6L1753.0 514.3L1754.2 515.1L1755.4 515.8L1756.6 516.6L1757.8 517.3L1759.0 518.1L1760.2 518.9L1761.4 519.6L1762.6 520.4L1763.8 521.1L1765.0 521.9L1766.2 522.7L1767.4 523.4L1768.6 524.2L1769.8 524.9L1771.0 525.7L1772.2 526.5L1773.4 527.2L1774.6 528.0L1775.8 528.7L1777.0 529.5L1778.2 530.3L1779.4 531.0L1780.6 531.8L1781.8 532.6L1783.0 533.3L1784.2 534.1L1785.4 534.8L1786.6 535.6L1787.8 536.4L1789.0 537.1L1790.2 537.9L1791.4 538.6L1792.6 539.4L1793.8 540.1L1795.0 540.9L1796.2 541.6L1797.4 542.4L1798.6 543.1L1799.8 543.9L1801.0 544.6L1802.2 545.4L1803.5 546.1L1804.7 546.9L1805.9 547.6L1807.1 548.3L1808.3 549.1L1809.5 549.8L1810.7 550.6L1811.9 551.3L1813.1 552.0L1814.3 552.7L1815.5 553.5L1816.7 554.2L1817.9 554.9L1819.1 555.6L1820.3 556.3L1821.5 557.1L1822.7 557.8L1823.9 558.5L1825.1 559.2L1826.3 559.9L1827.5 560.6L1828.7 561.2L1829.9 561.9L1831.1 562.6L1832.3 563.3L1833.5 564.0L1834.7 564.7L1835.9 565.3L1837.1 566.0L1838.3 566.7L1839.5 567.3L1840.7 568.0L1841.9 568.6L1843.1 569.3L1844.3 570.0L1845.5 570.6L1846.7 571.2L1847.9 571.9L1849.1 572.5L1850.3 573.1L1851.5 573.8L1852.7 574.4L1853.9 575.0L1855.1 575.6L1856.3 576.3L1857.5 577.0L1858.7 577.6L1859.9 578.3L1861.1 578.9L1862.3 579.5L1863.5 580.2L1864.8 580.8L1866.0 581.4L1867.2 582.1L1868.4 582.7L1869.6 583.3L1870.8 583.9L1872.0 584.5L1873.2 585.1L1874.4 585.7L1875.6 586.3L1876.8 586.9L1878.0 587.5L1879.2 588.1L1880.4 588.6L1881.6 589.2L1882.8 589.8L1884.0 590.3L1885.2 590.9L1886.4 591.4L1887.6 591.9L1888.8 592.5L1890.0 593.0L1891.2 593.5L1892.4 594.0L1893.6 594.6L1894.8 595.1L1896.0 595.6L1897.2 596.1L1898.4 596.6L1899.6 597.0L1900.8 597.5L1902.0 598.0L1903.2 598.5L1904.4 598.9L1905.6 599.4L1906.8 599.8L1908.0 600.3L1909.2 600.7L1910.4 601.1L1911.6 601.5L1912.8 602.0L1914.0 602.4L1915.2 602.8L1916.4 603.2L1917.6 603.6L1918.8 604.0L1920.0 604.3L1921.2 604.7L1922.4 605.1L1923.6 605.5L1924.8 605.8L1926.0 606.2L1927.3 606.5L1928.5 606.8L1929.7 607.2L1930.9 607.5L1932.1 607.8L1933.3 608.1L1934.5 608.4L1935.7 608.7L1936.9 609.0L1938.1 609.3L1939.3 609.6L1940.5 609.8L1941.7 610.1L1942.9 610.3L1944.1 610.6L1945.3 610.8L1946.5 611.1L1947.7 611.3L1948.9 611.5L1950.1 611.7L1951.3 611.9L1952.5 612.2L1953.7 612.3L1954.9 612.5L1956.1 612.7L1957.3 612.9L1958.5 613.1L1959.7 613.2L1960.9 613.4L1962.1 613.5L1963.3 613.7L1964.5 613.8L1965.7 613.9L1966.9 614.0L1968.1 614.1L1969.3 614.2L1970.5 614.3L1971.7 614.3L1972.9 614.3L1974.1 614.2L1975.3 614.2L1976.5 614.1L1977.7 614.1L1978.9 614.0L1980.1 613.9L1981.3 613.8L1982.5 613.7L1983.7 613.6L1984.9 613.5L1986.1 613.4L1987.3 613.3L1988.6 613.2L1989.8 613.0L1991.0 612.9L1992.2 612.7L1993.4 612.6L1994.6 612.4L1995.8 612.2L1997.0 612.1L1998.2 611.9L1999.4 611.7L2000.6 611.5L2001.8 611.3L2003.0 611.1L2004.2 610.9L2005.4 610.6L2006.6 610.4L2007.8 610.2L2009.0 609.9L2010.2 609.7L2011.4 609.4L2012.6 609.1L2013.8 608.9L2015.0 608.6L2016.2 608.3L2017.4 608.0L2018.6 607.7L2019.8 607.4L2021.0 607.1L2022.2 606.8L2023.4 606.4L2024.6 606.1L2025.8 605.7L2027.0 605.4L2028.2 605.0L2029.4 604.7L2030.6 604.3L2031.8 603.9L2033.0 603.5L2034.2 603.1L2035.4 602.7L2036.6 602.3L2037.8 601.9L2039.0 601.5L2040.2 601.1L2041.4 600.6L2042.6 600.2L2043.8 599.7L2045.0 599.3L2046.2 598.8L2047.4 598.4L2048.6 597.9L2049.8 597.4L2051.1 596.9L2052.3 596.4L2053.5 595.9L2054.7 595.4L2055.9 594.9L2057.1 594.4L2058.3 593.9L2059.5 593.3L2060.7 592.9L2061.9 592.4L2063.1 591.9L2064.3 591.4L2065.5 591.0L2066.7 590.5L2067.9 590.0L2069.1 589.5L2070.3 588.9L2071.5 588.4L2072.7 587.9L2073.9 587.4L2075.1 586.8L2076.3 586.3L2077.5 585.8L2078.7 585.2L2079.9 584.6L2081.1 584.1L2082.3 583.5L2083.5 583.0L2084.7 582.4L2085.9 581.8L2087.1 581.2L2088.3 580.6L2089.5 580.0L2090.7 579.4L2091.9 578.8L2093.1 578.2L2094.3 577.6L2095.5 577.0L2096.7 576.4L2097.9 575.7L2099.1 575.1L2100.3 574.5L2101.5 573.8L2102.7 573.2L2103.9 572.5L2105.1 571.9L2106.3 571.2L2107.5 570.6L2108.7 569.9L2109.9 569.2L2111.1 568.6L2112.3 567.9L2113.6 567.2L2114.8 566.5L2116.0 565.9L2117.2 565.2L2118.4 564.5L2119.6 563.8L2120.8 563.1L2122.0 562.4L2123.2 561.7L2124.4 561.0L2125.6 560.3L2126.8 559.5L2128.0 558.8L2129.2 558.1L2130.4 557.4L2131.6 556.7L2132.8 555.9L2134.0 555.2L2135.2 554.5L2136.4 553.7L2137.6 553.0L2138.8 552.3L2140.0 551.5L2141.2 550.8L2142.4 550.0L2143.6 549.3L2144.8 548.5L2146.0 547.8"/>
<path fill="#0072bd" d="M217.0 119.9H224.0V127.4H217.0zM224.0 117.7H232.0V128.6H224.0zM232.0 119.9H240.0V128.6H232.0zM240.0 118.7H248.0V127.4H240.0zM248.0 117.7H256.0V127.4H248.0zM256.0 119.9H264.0V128.6H256.0zM264.0 118.7H272.0V128.6H264.0zM272.0 117.7H280.0V130.6H272.0zM280.0 119.9H288.0V128.6H280.0zM288.0 118.7H296.0V127.4H288.0zM296.0 119.9H304.0V130.6H296.0zM304.0 119.9H312.0V127.4H304.0zM312.0 117.7H320.0V128.6H312.0zM320.0 118.7H328.0V129.6H320.0zM328.0 119.9H336.0V128.6H328.0zM336.0 119.9H344.0V127.4H336.0zM344.0 118.7H352.0V130.6H344.0zM352.0 119.9H360.0V128.6H352.0zM360.0 119.9H368.0V129.6H360.0zM368.0 117.7H376.0V127.4H368.0zM376.0 117.7H384.0V128.6H376.0zM384.0 118.7H392.0V129.6H384.0zM392.0 118.7H400.0V129.6H392.0zM400.0 117.7H408.0V127.4H400.0zM408.0 117.7H416.0V127.4H408.0zM416.0 118.7H424.0V127.4H416.0zM424.0 118.7H432.0V127.4H424.0zM432.0 117.7H440.0V127.4H432.0zM440.0 118.7H448.0V127.4H440.0zM448.0 118.7H456.0V127.4H448.0zM456.0 119.9H464.0V129.6H456.0zM455.8 120.0H465.4V124.0H455.8zM456.0 115.9H464.0V126.6H456.0zM457.8 120.0H467.1V128.0H457.8zM488.8 352.0H498.8V360.0H488.8zM490.9 360.0H500.9V368.0H490.9zM492.2 368.0H501.5V376.0H492.2zM494.4 376.0H502.1V384.0H494.4zM495.9 384.0H503.5V392.0H495.9zM497.4 392.0H506.7V400.0H497.4zM499.0 400.0H506.7V408.0H499.0zM500.5 408.0H509.0V416.0H500.5zM500.6 416.0H510.7V424.0H500.6zM503.9 424.0H511.6V432.0H503.9zM504.9 432.0H513.4V440.0H504.9zM506.9 440.0H515.5V448.0H506.9zM510.0 448.0H518.6V456.0H510.0zM511.5 456.0H520.2V464.0H511.5zM514.8 464.0H522.6V472.0H514.8zM517.0 472.0H524.8V480.0H517.0zM518.9 480.0H526.7V488.0H518.9zM520.1 488.0H528.7V496.0H520.1zM523.1 496.0H530.9V504.0H523.1zM525.3 504.0H534.0V512.0H525.3zM527.8 512.0H535.8V520.0H527.8zM529.0 520.0H538.6V528.0H529.0zM532.4 528.0H540.6V536.0H532.4zM533.2 528.0H541.4V532.0H533.2zM534.5 532.0H544.6V536.0H534.5zM536.6 536.0H546.1V540.0H536.6zM537.3 540.0H548.8V544.0H537.3zM540.8 544.0H552.4V548.0H540.8zM543.3 548.0H554.6V552.0H543.3zM548.0 546.0H552.0V556.0H548.0zM552.0 547.6H556.0V557.3H552.0zM556.0 549.7H560.0V559.1H556.0zM552.0 551.8H560.0V560.9H552.0zM560.0 552.9H568.0V560.5H560.0zM568.0 552.0H576.0V562.2H568.0zM576.0 550.9H584.0V560.6H576.0zM576.0 550.9H580.0V560.0H576.0zM580.0 549.8H584.0V559.1H580.0zM576.0 548.8H584.0V559.2H576.0zM584.0 545.7H592.0V557.8H584.0zM584.0 546.4H588.0V558.0H584.0zM588.0 542.9H592.0V555.4H588.0zM592.0 541.0H596.0V553.1H592.0zM596.0 540.0H600.0V552.8H596.0zM592.4 544.0H604.1V548.0H592.4zM595.0 540.0H606.1V544.0H595.0zM597.4 536.0H609.6V540.0H597.4zM604.0 530.0H608.0V541.6H604.0zM608.0 527.9H612.0V538.7H608.0zM612.0 523.5H616.0V536.6H612.0zM616.0 520.9H620.0V533.1H616.0zM613.3 524.0H626.6V528.0H613.3zM616.2 520.0H629.2V524.0H616.2zM621.3 516.0H633.7V520.0H621.3zM628.0 508.6H632.0V521.8H628.0zM632.0 504.9H636.0V518.5H632.0zM636.0 502.7H640.0V514.3H636.0zM640.0 498.5H644.0V511.6H640.0zM644.0 494.8H648.0V507.4H644.0zM648.0 490.6H652.0V504.3H648.0zM652.0 488.3H656.0V500.0H652.0zM656.0 485.0H660.0V497.8H656.0zM660.0 481.7H664.0V493.1H660.0zM664.0 478.6H668.0V489.8H664.0zM668.0 475.6H672.0V486.6H668.0zM672.0 472.1H676.0V484.4H672.0zM676.0 470.4H680.0V482.4H676.0zM680.0 467.9H684.0V478.2H680.0zM684.0 463.9H688.0V475.8H684.0zM688.0 463.1H692.0V474.3H688.0zM692.0 459.1H696.0V470.9H692.0zM696.0 457.0H700.0V468.7H696.0zM700.0 455.4H704.0V468.8H700.0zM696.0 455.4H704.0V467.0H696.0zM704.0 454.6H712.0V465.0H704.0zM712.0 450.4H720.0V461.9H712.0zM720.0 448.5H728.0V459.1H720.0zM720.0 449.0H724.0V458.6H720.0zM720.0 447.5H728.0V457.1H720.0zM728.0 442.9H736.0V457.1H728.0zM736.0 442.4H744.0V451.5H736.0zM744.0 440.4H752.0V450.5H744.0zM752.0 437.7H760.0V449.9H752.0zM760.0 437.7H768.0V448.8H760.0zM768.0 435.9H776.0V448.1H768.0zM776.0 434.8H784.0V448.0H776.0zM784.0 436.3H792.0V447.6H784.0zM792.0 437.2H800.0V447.2H792.0zM800.0 438.3H808.0V451.5H800.0zM808.0 438.8H816.0V450.0H808.0zM816.0 442.1H824.0V452.5H816.0zM824.0 445.8H832.0V455.0H824.0zM832.0 446.1H840.0V460.3H832.0zM840.0 449.3H848.0V459.5H840.0zM848.0 451.6H856.0V463.9H848.0zM856.0 453.4H864.0V464.8H856.0zM864.0 457.0H872.0V468.5H864.0zM864.0 456.9H868.0V468.6H864.0zM868.0 458.6H872.0V471.2H868.0zM872.0 461.6H876.0V471.6H872.0zM876.0 463.7H880.0V474.7H876.0zM880.0 466.0H884.0V476.2H880.0zM884.0 468.3H888.0V479.4H884.0zM888.0 468.2H892.0V480.7H888.0zM892.0 472.9H896.0V482.9H892.0zM896.0 473.3H900.0V485.0H896.0zM900.0 476.2H904.0V488.1H900.0zM904.0 479.3H908.0V490.2H904.0zM908.0 481.4H912.0V493.1H908.0zM912.0 483.5H916.0V493.6H912.0zM916.0 485.7H920.0V495.8H916.0zM920.0 487.9H924.0V499.7H920.0zM924.0 490.3H928.0V500.6H924.0zM928.0 492.6H932.0V503.3H928.0zM932.0 495.4H936.0V506.1H932.0zM936.0 498.2H940.0V510.3H936.0zM940.0 500.9H944.0V511.3H940.0zM944.0 502.5H948.0V514.6H944.0zM948.0 504.4H952.0V516.4H948.0zM952.0 506.3H956.0V520.0H952.0zM956.0 511.2H960.0V522.3H956.0zM960.0 513.0H964.0V526.7H960.0zM957.7 520.0H970.0V524.0H957.7zM960.5 524.0H972.9V528.0H960.5zM965.5 528.0H976.8V532.0H965.5zM968.6 532.0H978.6V536.0H968.6zM971.4 536.0H982.0V540.0H971.4zM974.0 540.0H983.6V544.0H974.0zM974.8 544.0H986.6V548.0H974.8zM978.6 548.0H987.9V552.0H978.6zM979.2 552.0H990.9V556.0H979.2zM982.0 556.0H992.1V560.0H982.0zM984.9 560.0H995.7V564.0H984.9zM986.9 564.0H996.2V568.0H986.9zM988.9 568.0H998.1V572.0H988.9zM990.1 572.0H1000.9V576.0H990.1zM992.1 576.0H1002.2V580.0H992.1zM994.8 580.0H1004.1V584.0H994.8zM996.9 584.0H1006.2V588.0H996.9zM998.1 588.0H1008.2V592.0H998.1zM1000.9 592.0H1011.1V596.0H1000.9zM1003.1 596.0H1012.4V600.0H1003.1zM1003.6 600.0H1016.2V604.0H1003.6zM1007.4 604.0H1016.8V608.0H1007.4zM1009.5 608.0H1019.0V612.0H1009.5zM1011.8 612.0H1021.3V616.0H1011.8zM1013.3 616.0H1024.4V620.0H1013.3zM1016.4 620.0H1026.7V624.0H1016.4zM1018.6 624.0H1028.2V628.0H1018.6zM1020.9 628.0H1030.5V632.0H1020.9zM1022.5 632.0H1032.9V636.0H1022.5zM1025.7 636.0H1035.3V640.0H1025.7zM1028.0 640.0H1037.7V644.0H1028.0zM1030.5 644.0H1041.9V648.0H1030.5zM1033.0 648.0H1042.8V652.0H1033.0zM1035.5 652.0H1046.2V656.0H1035.5zM1037.4 656.0H1048.1V660.0H1037.4zM1040.8 660.0H1050.7V664.0H1040.8zM1043.5 664.0H1053.5V668.0H1043.5zM1046.2 668.0H1057.9V672.0H1046.2zM1047.3 672.0H1059.1V676.0H1047.3zM1051.9 676.0H1062.2V680.0H1051.9zM1054.9 680.0H1066.0V684.0H1054.9zM1057.0 684.0H1068.3V688.0H1057.0zM1060.9 688.0H1072.2V692.0H1060.9zM1063.4 692.0H1074.7V696.0H1063.4zM1066.6 696.0H1078.0V700.0H1066.6zM1070.6 700.0H1082.1V704.0H1070.6zM1073.8 704.0H1084.7V708.0H1073.8zM1077.2 708.0H1089.3V712.0H1077.2zM1081.0 712.0H1092.5V716.0H1081.0zM1084.4 716.0H1097.1V720.0H1084.4zM1092.0 715.2H1096.0V727.2H1092.0zM1096.0 718.9H1100.0V730.7H1096.0zM1100.0 721.8H1104.0V735.3H1100.0zM1104.0 725.9H1108.0V737.2H1104.0zM1108.0 728.4H1112.0V740.3H1108.0zM1112.0 732.3H1116.0V743.4H1112.0zM1116.0 735.3H1120.0V746.2H1116.0zM1120.0 738.3H1124.0V749.0H1120.0zM1124.0 739.6H1128.0V751.8H1124.0zM1128.0 743.8H1132.0V755.1H1128.0zM1132.0 746.3H1136.0V756.4H1132.0zM1136.0 748.6H1140.0V759.4H1136.0zM1140.0 750.1H1144.0V759.8H1140.0zM1136.0 751.0H1144.0V762.5H1136.0zM1144.0 750.2H1152.0V765.2H1144.0zM1152.0 755.5H1160.0V765.7H1152.0zM1160.0 754.5H1168.0V766.7H1160.0zM1168.0 755.7H1176.0V766.8H1168.0zM1176.0 751.8H1184.0V763.2H1176.0zM1180.0 751.7H1184.0V761.5H1180.0zM1184.0 748.7H1188.0V759.6H1184.0zM1188.0 747.2H1192.0V757.5H1188.0zM1192.0 744.4H1196.0V755.0H1192.0zM1196.0 741.6H1200.0V752.4H1196.0zM1200.0 738.6H1204.0V749.6H1200.0zM1204.0 735.5H1208.0V748.6H1204.0zM1208.0 730.4H1212.0V744.9H1208.0zM1212.0 729.1H1216.0V740.4H1212.0zM1216.0 726.0H1220.0V737.2H1216.0zM1220.0 721.5H1224.0V734.8H1220.0zM1224.0 718.9H1228.0V732.8H1224.0zM1228.0 714.9H1232.0V729.0H1228.0zM1232.0 712.9H1236.0V726.3H1232.0zM1228.9 716.0H1240.7V720.0H1228.9zM1231.7 712.0H1243.9V716.0H1231.7zM1236.4 708.0H1247.4V712.0H1236.4zM1239.2 704.0H1252.4V708.0H1239.2zM1242.6 700.0H1254.9V704.0H1242.6zM1246.0 696.0H1257.2V700.0H1246.0zM1248.2 692.0H1260.2V696.0H1248.2zM1252.1 688.0H1263.2V692.0H1252.1zM1255.1 684.0H1266.1V688.0H1255.1zM1257.2 680.0H1269.8V684.0H1257.2zM1261.7 676.0H1272.6V680.0H1261.7zM1264.5 672.0H1274.6V676.0H1264.5zM1267.2 668.0H1277.4V672.0H1267.2zM1270.1 664.0H1280.3V668.0H1270.1zM1273.1 660.0H1283.3V664.0H1273.1zM1276.1 656.0H1286.3V660.0H1276.1zM1277.4 652.0H1290.0V656.0H1277.4zM1281.9 648.0H1292.1V652.0H1281.9zM1284.8 644.0H1294.9V648.0H1284.8zM1286.8 640.0H1298.4V644.0H1286.8zM1290.3 636.0H1301.9V640.0H1290.3zM1292.2 632.0H1303.7V636.0H1292.2zM1295.6 628.0H1305.5V632.0H1295.6zM1298.3 624.0H1308.1V628.0H1298.3zM1300.8 620.0H1310.6V624.0H1300.8zM1303.4 616.0H1313.1V620.0H1303.4zM1305.9 612.0H1315.4V616.0H1305.9zM1308.2 608.0H1317.7V612.0H1308.2zM1310.5 604.0H1320.0V608.0H1310.5zM1312.8 600.0H1322.2V604.0H1312.8zM1315.1 596.0H1324.5V600.0H1315.1zM1316.4 592.0H1326.7V596.0H1316.4zM1318.6 588.0H1329.6V592.0H1318.6zM1321.6 584.0H1331.0V588.0H1321.6zM1323.8 580.0H1333.1V584.0H1323.8zM1325.9 576.0H1335.3V580.0H1325.9zM1328.0 572.0H1337.3V576.0H1328.0zM1330.1 568.0H1340.3V572.0H1330.1zM1331.5 564.0H1341.9V568.0H1331.5zM1332.9 560.0H1344.2V564.0H1332.9zM1337.0 556.0H1347.0V560.0H1337.0zM1339.0 552.0H1351.7V556.0H1339.0zM1342.7 548.0H1353.4V552.0H1342.7zM1346.0 544.0H1356.8V548.0H1346.0zM1348.4 540.0H1360.6V544.0H1348.4zM1352.9 536.0H1364.5V540.0H1352.9zM1356.1 532.0H1370.3V536.0H1356.1zM1361.0 528.0H1374.5V532.0H1361.0zM1363.5 524.0H1377.1V528.0H1363.5zM1367.8 520.0H1379.7V524.0H1367.8zM1372.0 516.3H1376.0V528.2H1372.0zM1376.0 513.7H1380.0V525.5H1376.0zM1380.0 508.3H1384.0V522.5H1380.0zM1384.0 506.7H1388.0V518.3H1384.0zM1388.0 503.3H1392.0V515.6H1388.0zM1392.0 499.9H1396.0V511.4H1392.0zM1396.0 496.2H1400.0V509.4H1396.0zM1400.0 493.6H1404.0V507.2H1400.0zM1404.0 492.0H1408.0V502.4H1404.0zM1408.0 487.3H1412.0V500.8H1408.0zM1412.0 487.2H1416.0V497.4H1412.0zM1416.0 484.9H1420.0V495.1H1416.0zM1420.0 482.7H1424.0V492.8H1420.0zM1424.0 479.5H1428.0V491.4H1424.0zM1428.0 477.4H1432.0V489.2H1428.0zM1432.0 476.2H1436.0V486.1H1432.0zM1436.0 473.1H1440.0V484.0H1436.0zM1440.0 472.1H1444.0V481.9H1440.0zM1444.0 470.2H1448.0V479.9H1444.0zM1448.0 468.3H1452.0V478.1H1448.0zM1452.0 466.9H1456.0V476.6H1452.0zM1448.0 464.2H1456.0V475.7H1448.0zM1456.0 463.0H1464.0V474.6H1456.0zM1464.0 457.9H1472.0V472.1H1464.0zM1472.0 454.8H1480.0V468.1H1472.0zM1480.0 454.8H1488.0V464.1H1480.0zM1488.0 450.1H1496.0V461.4H1488.0zM1496.0 448.6H1504.0V458.8H1496.0zM1504.0 446.4H1512.0V456.6H1504.0zM1512.0 442.7H1520.0V454.7H1512.0zM1520.0 444.3H1528.0V455.4H1520.0zM1528.0 443.2H1536.0V453.2H1528.0zM1536.0 442.3H1544.0V451.1H1536.0zM1544.0 441.6H1552.0V452.6H1544.0zM1552.0 439.0H1560.0V450.0H1552.0zM1560.0 440.0H1568.0V452.2H1560.0zM1568.0 439.2H1576.0V450.2H1568.0zM1576.0 441.9H1584.0V453.9H1576.0zM1584.0 442.7H1592.0V453.7H1584.0zM1592.0 442.5H1600.0V454.7H1592.0zM1600.0 444.9H1608.0V456.9H1600.0zM1608.0 444.3H1616.0V455.4H1608.0zM1616.0 446.0H1624.0V457.2H1616.0zM1624.0 448.0H1632.0V460.3H1624.0zM1632.0 450.3H1640.0V463.5H1632.0zM1640.0 454.7H1648.0V466.0H1640.0zM1648.0 457.4H1656.0V466.7H1648.0zM1656.0 459.2H1664.0V469.6H1656.0zM1664.0 462.3H1672.0V472.9H1664.0zM1672.0 464.8H1680.0V477.3H1672.0zM1672.0 466.6H1676.0V476.3H1672.0zM1676.0 466.7H1680.0V478.3H1676.0zM1680.0 469.6H1684.0V479.3H1680.0zM1684.0 471.4H1688.0V481.2H1684.0zM1688.0 473.4H1692.0V483.2H1688.0zM1692.0 475.4H1696.0V485.3H1692.0zM1696.0 476.5H1700.0V487.3H1696.0zM1700.0 479.5H1704.0V489.5H1700.0zM1704.0 480.7H1708.0V493.3H1704.0zM1708.0 482.8H1712.0V495.5H1708.0zM1712.0 485.1H1716.0V497.0H1712.0zM1716.0 488.2H1720.0V499.3H1716.0zM1720.0 489.6H1724.0V500.7H1720.0zM1724.0 492.9H1728.0V503.1H1724.0zM1728.0 494.3H1732.0V506.3H1728.0zM1732.0 497.5H1736.0V507.8H1732.0zM1736.0 499.1H1740.0V511.9H1736.0zM1740.0 501.5H1744.0V513.6H1740.0zM1744.0 504.8H1748.0V515.2H1744.0zM1748.0 507.3H1752.0V517.6H1748.0zM1752.0 509.8H1756.0V521.0H1752.0zM1756.0 512.3H1760.0V522.7H1756.0zM1760.0 513.9H1764.0V525.2H1760.0zM1764.0 516.4H1768.0V527.7H1764.0zM1768.0 519.9H1772.0V530.3H1768.0zM1772.0 522.4H1776.0V532.8H1772.0zM1776.0 524.9H1780.0V537.6H1776.0zM1780.0 527.5H1784.0V537.9H1780.0zM1784.0 530.0H1788.0V541.3H1784.0zM1788.0 532.5H1792.0V544.5H1788.0zM1792.0 535.1H1796.0V547.8H1792.0zM1796.0 536.0H1800.0V547.9H1796.0zM1800.0 540.1H1804.0V550.4H1800.0zM1804.0 542.5H1808.0V552.8H1804.0zM1808.0 545.0H1812.0V555.3H1808.0zM1812.0 547.5H1816.0V557.7H1812.0zM1816.0 549.9H1820.0V560.1H1816.0zM1820.0 552.2H1824.0V562.4H1820.0zM1824.0 552.2H1828.0V564.8H1824.0zM1828.0 556.9H1832.0V567.1H1828.0zM1832.0 559.2H1836.0V571.0H1832.0zM1836.0 561.5H1840.0V571.6H1836.0zM1840.0 562.0H1844.0V575.4H1840.0zM1844.0 565.9H1848.0V575.8H1844.0zM1848.0 568.0H1852.0V577.9H1848.0zM1852.0 569.1H1856.0V581.7H1852.0zM1856.0 572.2H1860.0V582.2H1856.0zM1860.0 574.4H1864.0V585.3H1860.0zM1864.0 575.5H1868.0V588.1H1864.0zM1868.0 577.7H1872.0V588.5H1868.0zM1872.0 579.7H1876.0V593.0H1872.0zM1876.0 582.6H1880.0V593.3H1876.0zM1880.0 582.7H1884.0V594.3H1880.0zM1884.0 586.1H1888.0V595.8H1884.0zM1880.0 586.0H1888.0V596.7H1880.0zM1888.0 589.0H1896.0V598.6H1888.0zM1896.0 592.4H1904.0V601.9H1896.0zM1904.0 594.5H1912.0V606.0H1904.0zM1912.0 597.3H1920.0V608.7H1912.0zM1920.0 598.9H1928.0V611.2H1920.0zM1928.0 602.1H1936.0V614.4H1928.0zM1936.0 602.1H1944.0V615.3H1936.0zM1944.0 603.7H1952.0V616.9H1944.0zM1952.0 608.2H1960.0V618.3H1952.0zM1960.0 608.1H1968.0V618.1H1960.0zM1968.0 606.6H1976.0V618.6H1968.0zM1976.0 608.3H1984.0V620.5H1976.0zM1984.0 606.6H1992.0V618.8H1984.0zM1992.0 605.6H2000.0V618.8H1992.0zM2000.0 605.2H2008.0V616.5H2000.0zM2008.0 602.6H2016.0V613.7H2008.0zM2016.0 602.8H2024.0V611.8H2016.0zM2024.0 600.5H2032.0V612.6H2024.0zM2032.0 596.8H2040.0V609.1H2032.0zM2040.0 593.9H2048.0V604.3H2040.0zM2048.0 589.9H2056.0V603.1H2048.0zM2056.0 588.5H2064.0V599.9H2056.0zM2064.0 584.1H2072.0V594.7H2064.0zM2072.0 582.4H2080.0V593.9H2072.0zM2076.0 580.6H2080.0V591.3H2076.0zM2080.0 577.8H2084.0V588.5H2080.0zM2084.0 575.9H2088.0V587.6H2084.0zM2088.0 574.9H2092.0V584.7H2088.0zM2092.0 572.8H2096.0V582.7H2092.0zM2096.0 569.8H2100.0V580.7H2096.0zM2100.0 568.6H2104.0V578.6H2100.0zM2104.0 566.4H2108.0V576.4H2104.0zM2108.0 563.3H2112.0V575.2H2108.0zM2112.0 560.2H2116.0V572.0H2112.0zM2116.0 559.6H2120.0V570.7H2116.0zM2120.0 557.3H2124.0V567.5H2120.0zM2124.0 554.9H2128.0V565.1H2124.0zM2128.0 551.6H2132.0V562.7H2128.0zM2132.0 547.7H2136.0V562.0H2132.0zM2136.0 547.5H2140.0V557.9H2136.0zM2140.0 545.1H2144.0V555.4H2140.0zM2144.0 543.3H2145.8V553.7H2144.0z"/>
<path stroke="#ff0000" stroke-width="8.2" d="M215.7 123.6L216.9 123.6L218.1 123.6L219.3 123.6L220.5 123.6L221.7 123.6L222.9 123.6L224.1 123.6L225.3 123.6L226.5 123.6L227.7 123.6L228.9 123.6L230.1 123.6L231.3 123.6L232.5 123.6L233.7 123.6L234.9 123.6L236.1 123.6L237.3 123.6L238.5 123.6L239.7 123.6L240.9 123.6L242.1 123.6L243.3 123.6L244.5 123.6L245.7 123.6L246.9 123.6L248.1 123.6L249.3 123.6L250.5 123.6L251.8 123.6L253.0 123.6L254.2 123.6L255.4 123.6L256.6 123.6L257.8 123.6L259.0 123.6L260.2 123.6L261.4 123.6L262.6 123.6L263.8 123.6L265.0 123.6L266.2 123.6L267.4 123.6L268.6 123.6L269.8 123.6L271.0 123.6L272.2 123.6L273.4 123.6L274.6 123.6L275.8 123.6L277.0 123.6L278.2 123.6L279.4 123.6L280.6 123.6L281.8 123.6L283.0 123.6L284.2 123.6L285.4 123.6L286.6 123.6L287.8 123.6L289.0 123.6L290.2 123.6L291.4 123.6L292.6 123.6L293.8 123.6L295.0 123.6L296.2 123.6L297.4 123.6L298.6 123.6L299.8 123.6L301.0 123.6L302.2 123.6L303.4 123.6L304.6 123.6L305.8 123.6L307.0 123.6L308.2 123.6L309.4 123.6L310.6 123.6L311.8 123.6L313.0 123.6L314.3 123.6L315.5 123.6L316.7 123.6L317.9 123.6L319.1 123.6L320.3 123.6L321.5 123.6L322.7 123.6L323.9 123.6L325.1 123.6L326.3 123.6L327.5 123.6L328.7 123.6L329.9 123.6L331.1 123.6L332.3 123.6L333.5 123.6L334.7 123.6L335.9 123.6L337.1 123.6L338.3 123.6L339.5 123.6L340.7 123.6L341.9 123.6L343.1 123.6L344.3 123.6L345.5 123.6L346.7 123.6L347.9 123.6L349.1 123.6L350.3 123.6L351.5 123.6L352.7 123.6L353.9 123.6L355.1 123.6L356.3 123.6L357.5 123.6L358.7 123.6L359.9 123.6L361.1 123.6L362.3 123.6L363.5 123.6L364.7 123.6L365.9 123.6L367.1 123.6L368.3 123.6L369.5 123.6L370.7 123.6L371.9 123.6L373.1 123.6L374.3 123.6L375.5 123.6L376.8 123.6L378.0 123.6L379.2 123.6L380.4 123.6L381.6 123.6L382.8 123.6L384.0 123.6L385.2 123.6L386.4 123.6L387.6 123.6L388.8 123.6L390.0 123.6L391.2 123.6L392.4 123.6L393.6 123.6L394.8 123.6L396.0 123.6L397.2 123.6L398.4 123.6L399.6 123.6L400.8 123.6L402.0 123.6L403.2 123.6L404.4 123.6L405.6 123.6L406.8 123.6L408.0 123.6L409.2 123.6L410.4 123.6L411.6 123.6L412.8 123.6L414.0 123.6L415.2 123.6L416.4 123.6L417.6 123.6L418.8 123.6L420.0 123.6L421.2 123.6L422.4 123.6L423.6 123.6L424.8 123.6L426.0 123.6L427.2 123.6L428.4 123.6L429.6 123.6L430.8 123.6L432.0 123.6L433.2 123.6L434.4 123.6L435.6 123.6L436.8 123.6L438.1 123.6L439.3 123.6L440.5 123.6L441.7 123.6L442.9 123.6L444.1 123.6L445.3 123.6L446.5 123.6L447.7 123.6L448.9 123.6L450.1 123.6L451.3 123.6L452.5 123.6L453.7 123.6L454.9 123.6L456.1 123.6L457.3 123.6L458.5 123.6L459.7 123.6L460.9 123.6L462.1 133.5L463.3 151.1L464.5 169.2L465.7 187.6L466.9 206.3L468.1 225.4L469.3 244.8L470.5 264.5L471.7 284.4L472.9 304.5L474.1 324.8L475.3 345.5L476.5 368.5L477.7 391.5L478.9 410.9L480.1 425.4L481.3 437.6L482.5 448.6L483.7 459.5L484.9 471.3L486.1 484.1L487.3 497.1L488.5 509.3L489.7 519.9L490.9 528.9L492.1 537.2L493.3 544.6L494.5 550.9L495.7 555.9L496.9 560.2L498.1 563.9L499.3 567.0L500.6 569.4L501.8 570.9L503.0 572.3L504.2 573.5L505.4 574.2L506.6 574.5L507.8 574.3L509.0 573.8L510.2 573.1L511.4 572.2L512.6 571.3L513.8 570.4L515.0 569.3L516.2 568.1L517.4 566.7L518.6 565.2L519.8 563.6L521.0 561.9L522.2 559.9L523.4 557.7L524.6 555.4L525.8 553.1L527.0 550.8L528.2 548.7L529.4 546.5L530.6 544.3L531.8 542.1L533.0 539.9L534.2 538.0L535.4 536.2L536.6 534.6L537.8 533.1L539.0 531.7L540.2 530.4L541.4 529.1L542.6 527.9L543.8 526.7L545.0 525.5L546.2 524.5L547.4 523.4L548.6 522.4L549.8 521.5L551.0 520.6L552.2 519.7L553.4 518.8L554.6 518.0L555.8 517.2L557.0 516.4L558.2 515.8L559.4 515.2L560.6 514.7L561.9 514.3L563.1 513.9L564.3 513.5L565.5 513.2L566.7 512.8L567.9 512.4L569.1 512.0L570.3 511.6L571.5 511.1L572.7 510.6L573.9 510.0L575.1 509.5L576.3 508.9L577.5 508.3L578.7 507.7L579.9 507.1L581.1 506.4L582.3 505.8L583.5 505.1L584.7 504.4L585.9 503.7L587.1 503.0L588.3 502.2L589.5 501.5L590.7 500.8L591.9 500.0L593.1 499.3L594.3 498.6L595.5 497.9L596.7 497.2L597.9 496.5L599.1 495.8L600.3 495.2L601.5 494.5L602.7 493.9L603.9 493.2L605.1 492.5L606.3 491.9L607.5 491.2L608.7 490.6L609.9 489.9L611.1 489.3L612.3 488.6L613.5 488.0L614.7 487.3L615.9 486.6L617.1 486.0L618.3 485.3L619.5 484.7L620.7 484.0L621.9 483.3L623.1 482.7L624.4 482.1L625.6 481.4L626.8 480.8L628.0 480.2L629.2 479.5L630.4 478.9L631.6 478.3L632.8 477.7L634.0 477.1L635.2 476.5L636.4 475.9L637.6 475.3L638.8 474.7L640.0 474.1L641.2 473.6L642.4 473.1L643.6 472.6L644.8 472.1L646.0 471.6L647.2 471.1L648.4 470.7L649.6 470.2L650.8 469.8L652.0 469.3L653.2 468.8L654.4 468.4L655.6 467.9L656.8 467.4L658.0 467.0L659.2 466.5L660.4 466.0L661.6 465.5L662.8 465.0L664.0 464.5L665.2 464.0L666.4 463.5L667.6 463.0L668.8 462.5L670.0 462.1L671.2 461.6L672.4 461.2L673.6 460.7L674.8 460.3L676.0 459.8L677.2 459.4L678.4 458.9L679.6 458.5L680.8 458.1L682.0 457.7L683.2 457.3L684.4 456.9L685.6 456.5L686.9 456.2L688.1 455.8L689.3 455.5L690.5 455.1L691.7 454.8L692.9 454.5L694.1 454.2L695.3 453.9L696.5 453.6L697.7 453.3L698.9 453.1L700.1 452.8L701.3 452.5L702.5 452.3L703.7 452.0L704.9 451.7L706.1 451.5L707.3 451.2L708.5 451.0L709.7 450.8L710.9 450.5L712.1 450.3L713.3 450.1L714.5 449.8L715.7 449.6L716.9 449.4L718.1 449.2L719.3 449.0L720.5 448.8L721.7 448.6L722.9 448.3L724.1 448.1L725.3 447.9L726.5 447.7L727.7 447.5L728.9 447.3L730.1 447.1L731.3 446.9L732.5 446.7L733.7 446.5L734.9 446.4L736.1 446.2L737.3 446.1L738.5 445.9L739.7 445.8L740.9 445.6L742.1 445.5L743.3 445.4L744.5 445.3L745.7 445.2L746.9 445.1L748.2 445.2L749.4 445.4L750.6 445.5L751.8 445.7L753.0 445.8L754.2 445.9L755.4 446.1L756.6 446.2L757.8 446.3L759.0 446.4L760.2 446.5L761.4 446.6L762.6 446.7L763.8 446.9L765.0 447.0L766.2 447.1L767.4 447.3L768.6 447.4L769.8 447.5L771.0 447.7L772.2 447.8L773.4 448.0L774.6 448.1L775.8 448.3L777.0 448.4L778.2 448.6L779.4 448.7L780.6 448.9L781.8 449.1L783.0 449.2L784.2 449.4L785.4 449.6L786.6 449.8L787.8 450.0L789.0 450.2L790.2 450.4L791.4 450.6L792.6 450.8L793.8 451.0L795.0 451.2L796.2 451.4L797.4 451.7L798.6 451.9L799.8 452.1L801.0 452.4L802.2 452.6L803.4 452.9L804.6 453.1L805.8 453.4L807.0 453.7L808.2 454.0L809.4 454.2L810.7 454.5L811.9 454.8L813.1 455.1L814.3 455.4L815.5 455.8L816.7 456.1L817.9 456.4L819.1 456.7L820.3 457.1L821.5 457.4L822.7 457.8L823.9 458.1L825.1 458.5L826.3 458.9L827.5 459.3L828.7 459.6L829.9 460.0L831.1 460.4L832.3 460.8L833.5 461.3L834.7 461.7L835.9 462.1L837.1 462.5L838.3 463.0L839.5 463.4L840.7 463.8L841.9 464.3L843.1 464.8L844.3 465.2L845.5 465.7L846.7 466.2L847.9 466.6L849.1 467.1L850.3 467.6L851.5 468.1L852.7 468.6L853.9 469.1L855.1 469.6L856.3 470.1L857.5 470.7L858.7 471.2L859.9 471.7L861.1 472.3L862.3 472.8L863.5 473.4L864.7 473.9L865.9 474.5L867.1 475.0L868.3 475.6L869.5 476.2L870.7 476.8L872.0 477.3L873.2 477.9L874.4 478.5L875.6 479.1L876.8 479.7L878.0 480.3L879.2 480.9L880.4 481.5L881.6 482.1L882.8 482.8L884.0 483.4L885.2 484.0L886.4 484.6L887.6 485.3L888.8 485.9L890.0 486.6L891.2 487.2L892.4 487.9L893.6 488.5L894.8 489.2L896.0 489.8L897.2 490.5L898.4 491.2L899.6 491.8L900.8 492.5L902.0 493.2L903.2 493.9L904.4 494.6L905.6 495.3L906.8 495.9L908.0 496.6L909.2 497.3L910.4 498.0L911.6 498.7L912.8 499.4L914.0 500.1L915.2 500.9L916.4 501.6L917.6 502.3L918.8 503.0L920.0 503.7L921.2 504.4L922.4 505.2L923.6 505.9L924.8 506.6L926.0 507.3L927.2 508.1L928.4 508.8L929.6 509.5L930.8 510.3L932.0 511.0L933.2 511.8L934.5 512.5L935.7 513.2L936.9 514.0L938.1 514.7L939.3 515.5L940.5 516.2L941.7 517.0L942.9 518.4L944.1 519.8L945.3 521.3L946.5 522.9L947.7 524.6L948.9 526.3L950.1 528.1L951.3 529.9L952.5 531.8L953.7 533.7L954.9 535.7L956.1 537.6L957.3 539.6L958.5 541.7L959.7 543.7L960.9 545.8L962.1 547.9L963.3 550.0L964.5 552.2L965.7 554.3L966.9 556.5L968.1 558.6L969.3 560.8L970.5 563.0L971.7 565.2L972.9 567.4L974.1 569.6L975.3 571.8L976.5 573.9L977.7 576.1L978.9 578.3L980.1 580.5L981.3 582.7L982.5 584.9L983.7 587.0L984.9 589.2L986.1 591.4L987.3 593.5L988.5 595.7L989.7 597.8L990.9 599.9L992.1 602.0L993.3 604.1L994.5 606.2L995.7 608.3L997.0 610.4L998.2 612.4L999.4 614.5L1000.6 616.5L1001.8 618.6L1003.0 620.6L1004.2 622.6L1005.4 624.6L1006.6 626.6L1007.8 628.5L1009.0 630.5L1010.2 632.5L1011.4 634.4L1012.6 636.3L1013.8 638.2L1015.0 640.1L1016.2 642.0L1017.4 643.9L1018.6 645.8L1019.8 647.6L1021.0 649.4L1022.2 651.2L1023.4 653.0L1024.6 654.8L1025.8 656.5L1027.0 658.3L1028.2 660.0L1029.4 661.7L1030.6 663.4L1031.8 665.0L1033.0 666.7L1034.2 668.3L1035.4 670.0L1036.6 671.6L1037.8 673.2L1039.0 674.8L1040.2 676.4L1041.4 678.0L1042.6 679.6L1043.8 681.2L1045.0 682.7L1046.2 684.2L1047.4 685.8L1048.6 687.3L1049.8 688.8L1051.0 690.3L1052.2 691.8L1053.4 693.2L1054.6 694.7L1055.8 696.1L1057.0 697.5L1058.3 698.9L1059.5 700.3L1060.7 701.7L1061.9 703.0L1063.1 704.3L1064.3 705.6L1065.5 706.9L1066.7 708.2L1067.9 709.5L1069.1 710.7L1070.3 711.9L1071.5 713.1L1072.7 714.3L1073.9 715.5L1075.1 716.6L1076.3 717.8L1077.5 718.9L1078.7 720.0L1079.9 721.1L1081.1 722.1L1082.3 723.2L1083.5 724.2L1084.7 725.2L1085.9 726.2L1087.1 727.2L1088.3 728.2L1089.5 729.1L1090.7 730.1L1091.9 731.0L1093.1 731.9L1094.3 732.8L1095.5 733.6L1096.7 734.5L1097.9 735.3L1099.1 736.2L1100.3 737.0L1101.5 737.7L1102.7 738.5L1103.9 739.2L1105.1 740.0L1106.3 740.7L1107.5 741.4L1108.7 742.0L1109.9 742.7L1111.1 743.3L1112.3 743.9L1113.5 744.5L1114.7 745.0L1115.9 745.6L1117.1 746.1L1118.3 746.6L1119.5 747.1L1120.8 747.6L1122.0 748.1L1123.2 748.5L1124.4 748.9L1125.6 749.3L1126.8 749.7L1128.0 750.1L1129.2 750.4L1130.4 750.8L1131.6 751.1L1132.8 751.4L1134.0 751.6L1135.2 751.9L1136.4 752.1L1137.6 752.3L1138.8 752.4L1140.0 752.5L1141.2 752.6L1142.4 752.7L1143.6 752.7L1144.8 752.6L1146.0 752.6L1147.2 752.5L1148.4 752.4L1149.6 752.2L1150.8 752.0L1152.0 751.8L1153.2 751.6L1154.4 751.3L1155.6 751.1L1156.8 750.8L1158.0 750.4L1159.2 750.1L1160.4 749.7L1161.6 749.2L1162.8 748.8L1164.0 748.3L1165.2 747.8L1166.4 747.3L1167.6 746.7L1168.8 746.2L1170.0 745.6L1171.2 745.0L1172.4 744.3L1173.6 743.7L1174.8 743.0L1176.0 742.3L1177.2 741.6L1178.4 740.9L1179.6 740.1L1180.8 739.4L1182.0 738.6L1183.3 737.8L1184.5 737.0L1185.7 736.2L1186.9 735.4L1188.1 734.5L1189.3 733.7L1190.5 732.9L1191.7 732.0L1192.9 731.2L1194.1 730.3L1195.3 729.4L1196.5 728.5L1197.7 727.6L1198.9 726.7L1200.1 725.7L1201.3 724.8L1202.5 723.8L1203.7 722.8L1204.9 721.7L1206.1 720.7L1207.3 719.6L1208.5 718.5L1209.7 717.4L1210.9 716.2L1212.1 715.0L1213.3 713.8L1214.5 712.6L1215.7 711.4L1216.9 710.1L1218.1 708.8L1219.3 707.5L1220.5 706.2L1221.7 704.9L1222.9 703.5L1224.1 702.1L1225.3 700.7L1226.5 699.3L1227.7 697.9L1228.9 696.5L1230.1 695.0L1231.3 693.6L1232.5 692.1L1233.7 690.6L1234.9 689.1L1236.1 687.5L1237.3 686.0L1238.5 684.4L1239.7 682.8L1240.9 681.3L1242.1 679.7L1243.3 678.1L1244.6 676.5L1245.8 674.9L1247.0 673.3L1248.2 671.7L1249.4 670.1L1250.6 668.4L1251.8 666.8L1253.0 665.2L1254.2 663.5L1255.4 661.8L1256.6 660.2L1257.8 658.5L1259.0 656.8L1260.2 655.1L1261.4 653.4L1262.6 651.6L1263.8 649.9L1265.0 648.1L1266.2 646.4L1267.4 644.6L1268.6 642.8L1269.8 641.0L1271.0 639.2L1272.2 637.3L1273.4 635.5L1274.6 633.7L1275.8 631.8L1277.0 629.9L1278.2 628.0L1279.4 626.1L1280.6 624.2L1281.8 622.3L1283.0 620.4L1284.2 618.4L1285.4 616.5L1286.6 614.5L1287.8 612.5L1289.0 610.5L1290.2 608.5L1291.4 606.5L1292.6 604.5L1293.8 602.4L1295.0 600.3L1296.2 598.2L1297.4 596.0L1298.6 593.8L1299.8 591.6L1301.0 589.4L1302.2 587.2L1303.4 584.0L1304.6 581.1L1305.8 578.3L1307.1 575.7L1308.3 573.3L1309.5 571.0L1310.7 568.8L1311.9 566.8L1313.1 564.9L1314.3 563.1L1315.5 561.5L1316.7 559.9L1317.9 558.4L1319.1 556.9L1320.3 555.6L1321.5 554.3L1322.7 553.0L1323.9 551.8L1325.1 550.6L1326.3 549.5L1327.5 548.4L1328.7 547.3L1329.9 546.3L1331.1 545.3L1332.3 544.3L1333.5 543.4L1334.7 542.4L1335.9 541.5L1337.1 540.6L1338.3 539.7L1339.5 538.8L1340.7 538.0L1341.9 537.1L1343.1 536.3L1344.3 535.5L1345.5 534.7L1346.7 533.9L1347.9 533.2L1349.1 532.4L1350.3 531.6L1351.5 530.9L1352.7 530.1L1353.9 529.4L1355.1 528.7L1356.3 528.0L1357.5 527.2L1358.7 526.5L1359.9 525.8L1361.1 525.1L1362.3 524.4L1363.5 523.7L1364.7 523.0L1365.9 522.3L1367.1 521.6L1368.4 520.9L1369.6 520.2L1370.8 519.5L1372.0 518.8L1373.2 518.2L1374.4 517.5L1375.6 516.8L1376.8 516.1L1378.0 515.4L1379.2 514.8L1380.4 514.1L1381.6 513.4L1382.8 512.8L1384.0 512.1L1385.2 511.4L1386.4 510.8L1387.6 510.1L1388.8 509.4L1390.0 508.8L1391.2 508.1L1392.4 507.5L1393.6 506.8L1394.8 506.1L1396.0 505.5L1397.2 504.8L1398.4 504.2L1399.6 503.5L1400.8 502.9L1402.0 502.2L1403.2 501.6L1404.4 500.9L1405.6 500.3L1406.8 499.7L1408.0 499.0L1409.2 498.4L1410.4 497.8L1411.6 497.1L1412.8 496.5L1414.0 495.9L1415.2 495.2L1416.4 494.6L1417.6 494.0L1418.8 493.4L1420.0 492.8L1421.2 492.2L1422.4 491.6L1423.6 490.9L1424.8 490.3L1426.0 489.7L1427.2 489.1L1428.4 488.6L1429.6 488.0L1430.9 487.4L1432.1 486.8L1433.3 486.2L1434.5 485.6L1435.7 485.1L1436.9 484.5L1438.1 483.9L1439.3 483.3L1440.5 482.7L1441.7 482.2L1442.9 481.6L1444.1 481.0L1445.3 480.4L1446.5 479.9L1447.7 479.3L1448.9 478.7L1450.1 478.2L1451.3 477.6L1452.5 477.1L1453.7 476.5L1454.9 475.9L1456.1 475.4L1457.3 474.9L1458.5 474.3L1459.7 473.8L1460.9 473.2L1462.1 472.7L1463.3 472.2L1464.5 471.6L1465.7 471.1L1466.9 470.6L1468.1 470.1L1469.3 469.6L1470.5 469.1L1471.7 468.6L1472.9 468.1L1474.1 467.6L1475.3 467.1L1476.5 466.6L1477.7 466.1L1478.9 465.7L1480.1 465.2L1481.3 464.8L1482.5 464.3L1483.7 463.8L1484.9 463.4L1486.1 463.0L1487.3 462.5L1488.5 462.1L1489.7 461.7L1490.9 461.3L1492.1 460.9L1493.4 460.4L1494.6 460.1L1495.8 459.7L1497.0 459.3L1498.2 458.9L1499.4 458.5L1500.6 458.1L1501.8 457.8L1503.0 457.4L1504.2 457.0L1505.4 456.7L1506.6 456.3L1507.8 456.0L1509.0 455.7L1510.2 455.3L1511.4 455.0L1512.6 454.7L1513.8 454.4L1515.0 454.1L1516.2 453.8L1517.4 453.5L1518.6 453.2L1519.8 453.0L1521.0 452.7L1522.2 452.4L1523.4 452.2L1524.6 451.9L1525.8 451.7L1527.0 451.5L1528.2 451.2L1529.4 451.0L1530.6 450.8L1531.8 450.6L1533.0 450.4L1534.2 450.2L1535.4 450.1L1536.6 449.9L1537.8 449.7L1539.0 449.6L1540.2 449.4L1541.4 449.3L1542.6 449.1L1543.8 449.0L1545.0 448.9L1546.2 448.8L1547.4 448.7L1548.6 448.6L1549.8 448.5L1551.0 448.5L1552.2 448.4L1553.4 448.3L1554.7 448.3L1555.9 448.2L1557.1 448.2L1558.3 448.2L1559.5 448.2L1560.7 448.2L1561.9 448.2L1563.1 448.2L1564.3 448.2L1565.5 448.2L1566.7 448.3L1567.9 448.3L1569.1 448.3L1570.3 448.4L1571.5 448.5L1572.7 448.5L1573.9 448.6L1575.1 448.7L1576.3 448.8L1577.5 448.9L1578.7 449.0L1579.9 449.2L1581.1 449.3L1582.3 449.4L1583.5 449.6L1584.7 449.7L1585.9 449.9L1587.1 450.0L1588.3 450.2L1589.5 450.4L1590.7 450.6L1591.9 450.8L1593.1 451.0L1594.3 451.2L1595.5 451.4L1596.7 451.6L1597.9 451.8L1599.1 452.1L1600.3 452.3L1601.5 452.6L1602.7 452.8L1603.9 453.1L1605.1 453.4L1606.3 453.6L1607.5 453.9L1608.7 454.2L1609.9 454.5L1611.1 454.8L1612.3 455.1L1613.5 455.4L1614.7 455.8L1615.9 456.1L1617.2 456.4L1618.4 456.8L1619.6 457.1L1620.8 457.5L1622.0 457.8L1623.2 458.2L1624.4 458.6L1625.6 459.0L1626.8 459.3L1628.0 459.7L1629.2 460.1L1630.4 460.5L1631.6 461.0L1632.8 461.4L1634.0 461.8L1635.2 462.2L1636.4 462.7L1637.6 463.1L1638.8 463.5L1640.0 464.0L1641.2 464.5L1642.4 464.9L1643.6 465.4L1644.8 465.9L1646.0 466.3L1647.2 466.8L1648.4 467.3L1649.6 467.8L1650.8 468.3L1652.0 468.8L1653.2 469.3L1654.4 469.9L1655.6 470.4L1656.8 470.9L1658.0 471.4L1659.2 472.0L1660.4 472.5L1661.6 473.1L1662.8 473.6L1664.0 474.2L1665.2 474.8L1666.4 475.3L1667.6 475.9L1668.8 476.5L1670.0 477.1L1671.2 477.6L1672.4 478.2L1673.6 478.8L1674.8 479.4L1676.0 480.0L1677.2 480.6L1678.5 481.3L1679.7 481.9L1680.9 482.5L1682.1 483.1L1683.3 483.7L1684.5 484.4L1685.7 485.0L1686.9 485.7L1688.1 486.3L1689.3 487.0L1690.5 487.6L1691.7 488.3L1692.9 488.9L1694.1 489.6L1695.3 490.2L1696.5 490.9L1697.7 491.6L1698.9 492.3L1700.1 492.9L1701.3 493.6L1702.5 494.3L1703.7 495.0L1704.9 495.7L1706.1 496.4L1707.3 497.1L1708.5 497.8L1709.7 498.5L1710.9 499.2L1712.1 499.9L1713.3 500.6L1714.5 501.3L1715.7 502.0L1716.9 502.8L1718.1 503.5L1719.3 504.2L1720.5 504.9L1721.7 505.7L1722.9 506.4L1724.1 507.1L1725.3 507.9L1726.5 508.6L1727.7 509.3L1728.9 510.1L1730.1 510.8L1731.3 511.5L1732.5 512.3L1733.7 513.0L1734.9 513.8L1736.1 514.5L1737.3 515.3L1738.5 516.0L1739.7 516.8L1741.0 517.5L1742.2 518.3L1743.4 519.0L1744.6 519.8L1745.8 520.5L1747.0 521.3L1748.2 522.1L1749.4 522.8L1750.6 523.6L1751.8 524.3L1753.0 525.1L1754.2 525.8L1755.4 526.6L1756.6 527.4L1757.8 528.1L1759.0 528.9L1760.2 529.6L1761.4 530.4L1762.6 531.2L1763.8 531.9L1765.0 532.7L1766.2 533.4L1767.4 534.2L1768.6 534.9L1769.8 535.7L1771.0 536.5L1772.2 537.2L1773.4 538.0L1774.6 538.7L1775.8 539.5L1777.0 540.2L1778.2 541.0L1779.4 541.7L1780.6 542.5L1781.8 543.2L1783.0 544.0L1784.2 544.7L1785.4 545.4L1786.6 546.2L1787.8 546.9L1789.0 547.7L1790.2 548.4L1791.4 549.1L1792.6 549.9L1793.8 550.6L1795.0 551.3L1796.2 552.1L1797.4 552.8L1798.6 553.5L1799.8 554.2L1801.0 554.9L1802.2 555.7L1803.5 556.4L1804.7 557.1L1805.9 557.8L1807.1 558.5L1808.3 559.2L1809.5 559.9L1810.7 560.6L1811.9 561.3L1813.1 562.0L1814.3 562.7L1815.5 563.4L1816.7 564.0L1817.9 564.7L1819.1 565.4L1820.3 566.1L1821.5 566.7L1822.7 567.4L1823.9 568.1L1825.1 568.7L1826.3 569.4L1827.5 570.0L1828.7 570.7L1829.9 571.3L1831.1 572.0L1832.3 572.6L1833.5 573.2L1834.7 573.9L1835.9 574.5L1837.1 575.1L1838.3 575.7L1839.5 576.3L1840.7 576.9L1841.9 577.5L1843.1 578.1L1844.3 578.7L1845.5 579.3L1846.7 579.9L1847.9 580.5L1849.1 581.1L1850.3 581.6L1851.5 582.2L1852.7 582.8L1853.9 583.3L1855.1 583.9L1856.3 584.4L1857.5 585.0L1858.7 585.5L1859.9 586.0L1861.1 586.6L1862.3 587.1L1863.5 587.6L1864.8 588.1L1866.0 588.6L1867.2 589.1L1868.4 589.6L1869.6 590.1L1870.8 590.6L1872.0 591.1L1873.2 591.6L1874.4 592.0L1875.6 592.5L1876.8 592.9L1878.0 593.4L1879.2 593.8L1880.4 594.3L1881.6 594.7L1882.8 595.1L1884.0 595.6L1885.2 596.0L1886.4 596.4L1887.6 596.8L1888.8 597.2L1890.0 597.6L1891.2 598.0L1892.4 598.4L1893.6 598.7L1894.8 599.1L1896.0 599.5L1897.2 599.8L1898.4 600.2L1899.6 600.5L1900.8 600.8L1902.0 601.2L1903.2 601.5L1904.4 601.8L1905.6 602.1L1906.8 602.4L1908.0 602.7L1909.2 603.0L1910.4 603.3L1911.6 603.6L1912.8 603.8L1914.0 604.1L1915.2 604.3L1916.4 604.6L1917.6 604.8L1918.8 605.1L1920.0 605.3L1921.2 605.5L1922.4 605.7L1923.6 606.0L1924.8 606.2L1926.0 606.4L1927.3 606.5L1928.5 606.7L1929.7 606.9L1930.9 607.1L1932.1 607.2L1933.3 607.4L1934.5 607.5L1935.7 607.7L1936.9 607.8L1938.1 607.9L1939.3 608.0L1940.5 608.1L1941.7 608.2L1942.9 608.3L1944.1 608.4L1945.3 608.5L1946.5 608.6L1947.7 608.7L1948.9 608.7L1950.1 608.8L1951.3 608.8L1952.5 608.9L1953.7 608.9L1954.9 608.9L1956.1 608.9L1957.3 609.0L1958.5 609.0L1959.7 609.0L1960.9 608.9L1962.1 608.9L1963.3 608.9L1964.5 608.9L1965.7 608.8L1966.9 608.8L1968.1 608.7L1969.3 608.7L1970.5 608.6L1971.7 608.5L1972.9 608.4L1974.1 608.4L1975.3 608.3L1976.5 608.2L1977.7 608.1L1978.9 607.9L1980.1 607.8L1981.3 607.7L1982.5 607.5L1983.7 607.4L1984.9 607.2L1986.1 607.1L1987.3 606.9L1988.6 606.7L1989.8 606.6L1991.0 606.4L1992.2 606.2L1993.4 606.0L1994.6 605.8L1995.8 605.6L1997.0 605.3L1998.2 605.1L1999.4 604.9L2000.6 604.6L2001.8 604.4L2003.0 604.1L2004.2 603.9L2005.4 603.6L2006.6 603.3L2007.8 603.0L2009.0 602.8L2010.2 602.5L2011.4 602.2L2012.6 601.8L2013.8 601.5L2015.0 601.2L2016.2 600.9L2017.4 600.5L2018.6 600.2L2019.8 599.9L2021.0 599.5L2022.2 599.1L2023.4 598.8L2024.6 598.4L2025.8 598.0L2027.0 597.6L2028.2 597.2L2029.4 596.9L2030.6 596.4L2031.8 596.0L2033.0 595.6L2034.2 595.2L2035.4 594.8L2036.6 594.3L2037.8 593.9L2039.0 593.5L2040.2 593.0L2041.4 592.6L2042.6 592.1L2043.8 591.6L2045.0 591.1L2046.2 590.7L2047.4 590.2L2048.6 589.7L2049.8 589.2L2051.1 588.7L2052.3 588.2L2053.5 587.7L2054.7 587.2L2055.9 586.6L2057.1 586.1L2058.3 585.6L2059.5 585.0L2060.7 584.5L2061.9 584.0L2063.1 583.4L2064.3 582.9L2065.5 582.3L2066.7 581.7L2067.9 581.2L2069.1 580.6L2070.3 580.0L2071.5 579.4L2072.7 578.8L2073.9 578.2L2075.1 577.6L2076.3 577.0L2077.5 576.4L2078.7 575.8L2079.9 575.2L2081.1 574.6L2082.3 573.9L2083.5 573.3L2084.7 572.7L2085.9 572.0L2087.1 571.4L2088.3 570.8L2089.5 570.1L2090.7 569.5L2091.9 568.8L2093.1 568.2L2094.3 567.5L2095.5 566.8L2096.7 566.2L2097.9 565.5L2099.1 564.8L2100.3 564.1L2101.5 563.4L2102.7 562.8L2103.9 562.1L2105.1 561.4L2106.3 560.7L2107.5 560.0L2108.7 559.3L2109.9 558.6L2111.1 557.9L2112.3 557.2L2113.6 556.5L2114.8 555.8L2116.0 555.0L2117.2 554.3L2118.4 553.6L2119.6 552.9L2120.8 552.2L2122.0 551.4L2123.2 550.7L2124.4 550.0L2125.6 549.2L2126.8 548.5L2128.0 547.8L2129.2 547.0L2130.4 546.3L2131.6 545.6L2132.8 544.8L2134.0 544.1L2135.2 543.3L2136.4 542.6L2137.6 541.8L2138.8 541.1L2140.0 540.3L2141.2 539.6L2142.4 538.8L2143.6 538.1L2144.8 537.3L2146.0 536.6"/>
<path fill="#ff0000" d="M217.0 116.9H224.0V130.3H217.0zM224.0 118.2H232.0V127.5H224.0zM232.0 119.7H240.0V127.5H232.0zM240.0 118.2H248.0V127.5H240.0zM248.0 119.7H256.0V131.5H248.0zM256.0 118.2H264.0V127.5H256.0zM264.0 118.2H272.0V131.5H264.0zM272.0 116.9H280.0V130.3H272.0zM280.0 119.7H288.0V129.0H280.0zM288.0 118.2H296.0V127.5H288.0zM296.0 118.2H304.0V127.5H296.0zM304.0 116.9H312.0V127.5H304.0zM312.0 118.2H320.0V130.3H312.0zM320.0 119.7H328.0V130.3H320.0zM328.0 116.9H336.0V127.5H328.0zM336.0 118.2H344.0V127.5H336.0zM344.0 118.2H352.0V129.0H344.0zM352.0 119.7H360.0V127.5H352.0zM360.0 116.9H368.0V127.5H360.0zM368.0 119.7H376.0V129.0H368.0zM376.0 118.2H384.0V130.3H376.0zM384.0 119.7H392.0V127.5H384.0zM392.0 116.9H400.0V129.0H392.0zM400.0 118.2H408.0V127.5H400.0zM408.0 119.7H416.0V131.5H408.0zM416.0 119.7H424.0V130.3H416.0zM424.0 119.7H432.0V131.5H424.0zM432.0 119.7H440.0V131.5H432.0zM440.0 118.2H448.0V127.5H440.0zM448.0 116.9H456.0V129.0H448.0zM456.0 118.2H464.0V129.0H456.0zM456.5 120.0H466.3V124.0H456.5zM489.2 536.0H497.8V544.0H489.2zM489.2 544.0H497.9V552.0H489.2zM491.0 552.0H499.7V560.0H491.0zM494.0 560.0H502.9V568.0H494.0zM495.2 564.0H504.5V568.0H495.2zM495.6 568.0H507.5V572.0H495.6zM496.1 572.0H509.2V576.0H496.1zM500.0 566.4H504.0V578.4H500.0zM504.0 567.2H508.0V579.5H504.0zM504.0 568.8H512.0V582.0H504.0zM508.0 568.0H512.0V577.8H508.0zM512.0 563.8H516.0V577.4H512.0zM507.9 568.0H521.7V572.0H507.9zM510.4 564.0H523.8V568.0H510.4zM514.2 560.0H526.5V564.0H514.2zM517.6 556.0H528.7V560.0H517.6zM518.3 552.0H531.6V556.0H518.3zM521.9 548.0H533.0V552.0H521.9zM524.1 544.0H535.2V548.0H524.1zM526.3 540.0H537.3V544.0H526.3zM526.8 536.0H540.0V540.0H526.8zM530.9 532.0H543.3V536.0H530.9zM534.0 528.0H547.2V532.0H534.0zM536.5 524.0H552.0V528.0H536.5zM544.0 515.3H548.0V533.0H544.0zM548.0 514.2H552.0V528.5H548.0zM552.0 509.6H556.0V525.4H552.0zM556.0 507.5H560.0V523.8H556.0zM552.0 507.6H560.0V521.3H552.0zM560.0 507.7H568.0V519.6H560.0zM568.0 505.2H576.0V517.5H568.0zM572.0 503.4H576.0V516.0H572.0zM576.0 501.7H580.0V514.4H576.0zM580.0 498.2H584.0V513.5H580.0zM584.0 494.0H588.0V510.3H584.0zM588.0 494.5H592.0V507.9H588.0zM592.0 490.0H596.0V506.5H592.0zM596.0 488.8H600.0V503.0H596.0zM600.0 487.7H604.0V500.8H600.0zM604.0 485.6H608.0V498.6H604.0zM608.0 482.3H612.0V497.6H608.0zM612.0 479.0H616.0V495.3H612.0zM616.0 479.0H620.0V492.0H616.0zM620.0 476.9H624.0V489.8H620.0zM624.0 471.6H628.0V489.8H624.0zM628.0 472.7H632.0V485.5H628.0zM632.0 470.7H636.0V483.5H632.0zM636.0 466.5H640.0V481.4H636.0zM640.0 467.7H644.0V480.2H640.0zM640.0 464.9H648.0V479.8H640.0zM648.0 461.9H656.0V476.7H648.0zM656.0 460.0H664.0V473.6H656.0zM664.0 453.3H672.0V469.0H664.0zM672.0 451.3H680.0V465.9H672.0zM680.0 451.1H688.0V463.1H680.0zM688.0 448.9H696.0V464.4H688.0zM696.0 447.0H704.0V458.7H696.0zM704.0 445.3H712.0V456.9H704.0zM712.0 443.8H720.0V456.8H712.0zM720.0 440.9H728.0V457.8H720.0zM728.0 438.3H736.0V452.6H728.0zM736.0 438.6H744.0V455.5H736.0zM744.0 439.7H752.0V453.9H744.0zM752.0 440.4H760.0V454.6H752.0zM760.0 441.2H768.0V454.1H760.0zM768.0 440.6H776.0V453.5H768.0zM776.0 440.3H784.0V457.3H776.0zM784.0 442.8H792.0V455.8H784.0zM792.0 441.7H800.0V457.2H792.0zM800.0 444.5H808.0V460.3H800.0zM808.0 449.0H816.0V460.8H808.0zM816.0 451.1H824.0V463.0H816.0zM824.0 453.5H832.0V465.4H824.0zM832.0 454.8H840.0V469.5H832.0zM840.0 459.0H848.0V471.3H840.0zM848.0 459.8H856.0V474.5H848.0zM856.0 464.9H864.0V480.7H856.0zM860.0 466.7H864.0V480.4H860.0zM864.0 468.2H868.0V480.8H864.0zM868.0 468.9H872.0V482.7H868.0zM872.0 472.0H876.0V486.9H872.0zM876.0 473.9H880.0V486.7H876.0zM880.0 474.8H884.0V491.0H880.0zM884.0 478.0H888.0V490.9H884.0zM888.0 480.1H892.0V494.2H888.0zM892.0 482.3H896.0V495.3H892.0zM896.0 484.5H900.0V500.6H896.0zM900.0 485.5H904.0V500.9H900.0zM904.0 488.9H908.0V502.0H904.0zM908.0 489.1H912.0V505.5H908.0zM912.0 493.5H916.0V508.8H912.0zM916.0 495.9H920.0V509.1H916.0zM920.0 498.2H924.0V511.5H920.0zM924.0 498.6H928.0V514.0H924.0zM928.0 503.1H932.0V519.4H928.0zM932.0 504.4H936.0V518.9H932.0zM936.0 508.0H940.0V521.4H936.0zM940.0 509.7H944.0V523.3H940.0zM935.9 516.0H949.3V520.0H935.9zM938.9 520.0H951.8V524.0H938.9zM942.7 524.0H954.5V528.0H942.7zM943.9 528.0H957.9V532.0H943.9zM948.1 532.0H961.1V536.0H948.1zM950.6 536.0H961.9V540.0H950.6zM953.0 540.0H964.2V544.0H953.0zM953.8 544.0H966.6V548.0H953.8zM957.7 548.0H968.9V552.0H957.7zM959.9 552.0H971.8V556.0H959.9zM960.6 556.0H973.3V560.0H960.6zM964.5 560.0H976.4V564.0H964.5zM965.9 564.0H977.7V568.0H965.9zM968.0 568.0H979.9V572.0H968.0zM971.0 572.0H982.0V576.0H971.0zM973.2 576.0H984.2V580.0H973.2zM975.4 580.0H986.5V584.0H975.4zM976.1 584.0H988.8V588.0H976.1zM979.9 588.0H991.8V592.0H979.9zM980.4 592.0H994.7V596.0H980.4zM983.5 596.0H995.4V600.0H983.5zM986.6 600.0H997.7V604.0H986.6zM988.8 604.0H1000.8V608.0H988.8zM991.1 608.0H1002.3V612.0H991.1zM992.6 612.0H1004.6V616.0H992.6zM995.8 616.0H1008.6V620.0H995.8zM998.2 620.0H1009.5V624.0H998.2zM1000.5 624.0H1011.9V628.0H1000.5zM1002.9 628.0H1014.3V632.0H1002.9zM1005.4 632.0H1016.8V636.0H1005.4zM1007.9 636.0H1020.2V640.0H1007.9zM1008.8 640.0H1023.5V644.0H1008.8zM1013.0 644.0H1024.6V648.0H1013.0zM1015.7 648.0H1027.3V652.0H1015.7zM1018.3 652.0H1030.8V656.0H1018.3zM1020.2 656.0H1034.4V660.0H1020.2zM1023.7 660.0H1035.6V664.0H1023.7zM1024.8 664.0H1040.0V668.0H1024.8zM1029.4 668.0H1041.4V672.0H1029.4zM1031.6 672.0H1045.3V676.0H1031.6zM1033.7 676.0H1047.5V680.0H1033.7zM1038.4 680.0H1050.7V684.0H1038.4zM1041.5 684.0H1054.6V688.0H1041.5zM1044.6 688.0H1057.0V692.0H1044.6zM1047.7 692.0H1061.1V696.0H1047.7zM1051.0 696.0H1065.4V700.0H1051.0zM1054.4 700.0H1067.4V704.0H1054.4zM1058.0 704.0H1071.2V708.0H1058.0zM1061.7 708.0H1075.2V712.0H1061.7zM1064.7 712.0H1080.1V716.0H1064.7zM1067.8 716.0H1083.5V720.0H1067.8zM1072.0 709.2H1076.0V724.9H1072.0zM1076.0 710.8H1080.0V727.0H1076.0zM1080.0 715.4H1084.0V730.5H1080.0zM1084.0 718.0H1088.0V733.7H1084.0zM1088.0 720.5H1092.0V738.4H1088.0zM1092.0 723.7H1096.0V739.7H1092.0zM1096.0 728.5H1100.0V742.3H1096.0zM1100.0 731.3H1104.0V747.6H1100.0zM1104.0 733.9H1108.0V747.0H1104.0zM1108.0 736.2H1112.0V749.1H1108.0zM1112.0 738.4H1116.0V751.0H1112.0zM1112.0 740.3H1120.0V752.7H1112.0zM1120.0 742.7H1128.0V756.1H1120.0zM1128.0 741.4H1136.0V756.9H1128.0zM1136.0 743.9H1144.0V760.9H1136.0zM1144.0 745.0H1152.0V759.5H1144.0zM1152.0 743.5H1160.0V756.7H1152.0zM1160.0 741.1H1168.0V758.1H1160.0zM1164.0 738.3H1168.0V754.4H1164.0zM1168.0 739.2H1172.0V751.9H1168.0zM1172.0 733.9H1176.0V751.1H1172.0zM1176.0 733.4H1180.0V747.8H1176.0zM1180.0 730.7H1184.0V745.4H1180.0zM1184.0 729.0H1188.0V742.8H1184.0zM1188.0 726.2H1192.0V741.1H1188.0zM1192.0 723.2H1196.0V737.3H1192.0zM1196.0 720.1H1200.0V734.5H1196.0zM1200.0 716.7H1204.0V731.5H1200.0zM1204.0 711.6H1208.0V729.2H1204.0zM1208.0 710.2H1212.0V725.8H1208.0zM1203.5 716.0H1217.5V720.0H1203.5zM1206.2 712.0H1219.9V716.0H1206.2zM1210.4 708.0H1223.7V712.0H1210.4zM1213.4 704.0H1227.3V708.0H1213.4zM1217.8 700.0H1231.5V704.0H1217.8zM1220.5 696.0H1233.9V700.0H1220.5zM1224.7 692.0H1237.2V696.0H1224.7zM1227.2 688.0H1240.4V692.0H1227.2zM1231.2 684.0H1245.1V688.0H1231.2zM1234.4 680.0H1246.6V684.0H1234.4zM1237.4 676.0H1249.5V680.0H1237.4zM1239.5 672.0H1252.4V676.0H1239.5zM1242.5 668.0H1255.4V672.0H1242.5zM1244.8 664.0H1258.4V668.0H1244.8zM1249.3 660.0H1261.2V664.0H1249.3zM1252.2 656.0H1264.9V660.0H1252.2zM1255.0 652.0H1266.8V656.0H1255.0zM1257.8 648.0H1269.5V652.0H1257.8zM1260.6 644.0H1272.3V648.0H1260.6zM1261.6 640.0H1274.9V644.0H1261.6zM1265.1 636.0H1277.5V640.0H1265.1zM1268.6 632.0H1280.9V636.0H1268.6zM1271.3 628.0H1282.8V632.0H1271.3zM1273.8 624.0H1285.3V628.0H1273.8zM1276.2 620.0H1287.6V624.0H1276.2zM1278.8 616.0H1290.1V620.0H1278.8zM1281.3 612.0H1292.7V616.0H1281.3zM1283.7 608.0H1295.8V612.0H1283.7zM1285.4 604.0H1298.2V608.0H1285.4zM1288.5 600.0H1299.7V604.0H1288.5zM1290.8 596.0H1302.7V600.0H1290.8zM1293.1 592.0H1305.0V596.0H1293.1zM1294.5 588.0H1306.3V592.0H1294.5zM1295.1 584.0H1307.5V588.0H1295.1zM1297.0 584.0H1308.2V592.0H1297.0zM1297.2 576.0H1310.9V584.0H1297.2zM1299.5 580.0H1310.0V584.0H1299.5zM1300.7 576.0H1312.1V580.0H1300.7zM1301.7 572.0H1313.3V576.0H1301.7zM1303.7 568.0H1315.6V572.0H1303.7zM1305.1 564.0H1319.0V568.0H1305.1zM1309.1 560.0H1321.1V564.0H1309.1zM1311.1 556.0H1324.5V560.0H1311.1zM1315.2 552.0H1330.1V556.0H1315.2zM1316.7 548.0H1331.4V552.0H1316.7zM1324.0 541.5H1328.0V556.9H1324.0zM1328.0 538.8H1332.0V554.6H1328.0zM1332.0 535.8H1336.0V552.0H1332.0zM1336.0 532.8H1340.0V547.0H1336.0zM1340.0 528.2H1344.0V545.0H1340.0zM1344.0 527.6H1348.0V541.2H1344.0zM1348.0 523.1H1352.0V539.7H1348.0zM1352.0 522.7H1356.0V536.1H1352.0zM1356.0 520.3H1360.0V533.6H1356.0zM1360.0 516.9H1364.0V532.3H1360.0zM1364.0 515.7H1368.0V528.9H1364.0zM1368.0 513.4H1372.0V526.5H1368.0zM1372.0 511.1H1376.0V524.2H1372.0zM1376.0 505.9H1380.0V522.0H1376.0zM1380.0 505.5H1384.0V521.8H1380.0zM1384.0 502.3H1388.0V517.5H1384.0zM1388.0 502.3H1392.0V515.3H1388.0zM1392.0 500.0H1396.0V513.0H1392.0zM1396.0 497.9H1400.0V510.9H1396.0zM1400.0 495.8H1404.0V510.9H1400.0zM1404.0 492.5H1408.0V508.8H1404.0zM1408.0 491.6H1412.0V504.5H1408.0zM1412.0 489.4H1416.0V503.5H1412.0zM1416.0 487.4H1420.0V500.2H1416.0zM1420.0 485.4H1424.0V500.4H1420.0zM1424.0 482.2H1428.0V496.1H1424.0zM1428.0 480.2H1432.0V494.1H1428.0zM1432.0 477.3H1436.0V492.2H1432.0zM1436.0 477.6H1440.0V490.2H1436.0zM1440.0 475.7H1444.0V488.3H1440.0zM1444.0 471.5H1448.0V487.6H1444.0zM1448.0 471.9H1452.0V484.5H1448.0zM1452.0 470.1H1456.0V482.7H1452.0zM1456.0 468.5H1460.0V481.0H1456.0zM1456.0 464.4H1464.0V479.2H1456.0zM1464.0 461.6H1472.0V476.4H1464.0zM1472.0 458.3H1480.0V474.3H1472.0zM1480.0 456.4H1488.0V471.2H1480.0zM1488.0 454.9H1496.0V470.5H1488.0zM1496.0 452.3H1504.0V464.3H1496.0zM1504.0 447.5H1512.0V463.3H1504.0zM1512.0 446.6H1520.0V461.2H1512.0zM1520.0 446.3H1528.0V457.9H1520.0zM1528.0 440.9H1536.0V457.8H1528.0zM1536.0 442.3H1544.0V456.7H1536.0zM1544.0 443.0H1552.0V454.4H1544.0zM1552.0 441.1H1560.0V454.0H1552.0zM1560.0 442.5H1568.0V453.9H1560.0zM1568.0 441.3H1576.0V458.2H1568.0zM1576.0 442.0H1584.0V454.9H1576.0zM1584.0 440.5H1592.0V456.0H1584.0zM1592.0 444.3H1600.0V458.8H1592.0zM1600.0 447.3H1608.0V459.0H1600.0zM1608.0 449.2H1616.0V463.6H1608.0zM1616.0 451.3H1624.0V464.6H1616.0zM1624.0 452.4H1632.0V467.1H1624.0zM1632.0 454.0H1640.0V468.6H1632.0zM1640.0 459.5H1648.0V473.0H1640.0zM1648.0 462.7H1656.0V476.3H1648.0zM1656.0 465.0H1664.0V478.7H1656.0zM1656.0 463.6H1660.0V480.7H1656.0zM1660.0 464.7H1664.0V481.8H1660.0zM1664.0 468.8H1668.0V481.4H1664.0zM1668.0 470.7H1672.0V483.4H1668.0zM1672.0 471.4H1676.0V486.6H1672.0zM1676.0 474.6H1680.0V487.4H1676.0zM1680.0 476.7H1684.0V489.6H1680.0zM1684.0 478.8H1688.0V491.7H1684.0zM1688.0 478.7H1692.0V496.9H1688.0zM1692.0 481.9H1696.0V498.2H1692.0zM1696.0 482.2H1700.0V498.3H1696.0zM1700.0 487.5H1704.0V500.6H1700.0zM1704.0 489.7H1708.0V502.9H1704.0zM1708.0 490.9H1712.0V505.2H1708.0zM1712.0 493.3H1716.0V509.8H1712.0zM1716.0 494.7H1720.0V510.1H1716.0zM1720.0 497.1H1724.0V512.5H1720.0zM1724.0 499.6H1728.0V515.0H1724.0zM1728.0 504.0H1732.0V517.4H1728.0zM1732.0 505.4H1736.0V521.0H1732.0zM1736.0 509.0H1740.0V522.4H1736.0zM1740.0 511.5H1744.0V526.9H1740.0zM1744.0 512.9H1748.0V527.4H1744.0zM1748.0 515.4H1752.0V531.9H1748.0zM1752.0 519.0H1756.0V532.4H1752.0zM1756.0 521.5H1760.0V537.9H1756.0zM1760.0 524.0H1764.0V537.5H1760.0zM1764.0 525.5H1768.0V541.1H1764.0zM1768.0 529.1H1772.0V543.7H1768.0zM1772.0 530.5H1776.0V547.9H1772.0zM1776.0 534.1H1780.0V547.5H1776.0zM1780.0 536.7H1784.0V550.1H1780.0zM1784.0 539.1H1788.0V552.5H1784.0zM1788.0 541.6H1792.0V554.9H1788.0zM1792.0 543.0H1796.0V558.5H1792.0zM1796.0 546.5H1800.0V559.8H1796.0zM1800.0 548.9H1804.0V564.2H1800.0zM1804.0 551.2H1808.0V564.5H1804.0zM1808.0 553.6H1812.0V567.9H1808.0zM1812.0 556.0H1816.0V569.1H1812.0zM1816.0 556.1H1820.0V571.3H1816.0zM1820.0 560.5H1824.0V573.5H1820.0zM1824.0 560.6H1828.0V575.7H1824.0zM1828.0 563.7H1832.0V580.0H1828.0zM1832.0 567.0H1836.0V579.9H1832.0zM1836.0 569.2H1840.0V582.0H1836.0zM1840.0 571.2H1844.0V584.0H1840.0zM1844.0 572.0H1848.0V587.1H1844.0zM1848.0 575.2H1852.0V587.8H1848.0zM1852.0 573.7H1856.0V592.9H1852.0zM1856.0 578.3H1860.0V590.8H1856.0zM1856.0 580.1H1864.0V593.8H1856.0zM1864.0 582.0H1872.0V598.0H1864.0zM1872.0 585.2H1880.0V600.1H1872.0zM1880.0 588.2H1888.0V604.1H1880.0zM1888.0 592.2H1896.0V606.7H1888.0zM1896.0 592.0H1904.0V609.1H1896.0zM1904.0 593.0H1912.0V611.2H1904.0zM1912.0 598.6H1920.0V613.0H1912.0zM1920.0 597.5H1928.0V613.2H1920.0zM1928.0 601.4H1936.0V616.9H1928.0zM1936.0 602.3H1944.0V613.8H1936.0zM1944.0 601.4H1952.0V617.1H1944.0zM1952.0 603.2H1960.0V614.6H1952.0zM1960.0 600.3H1968.0V616.0H1960.0zM1968.0 601.3H1976.0V615.7H1968.0zM1976.0 599.3H1984.0V616.3H1976.0zM1984.0 601.0H1992.0V612.5H1984.0zM1992.0 595.8H2000.0V614.0H1992.0zM2000.0 596.6H2008.0V609.7H2000.0zM2008.0 593.5H2016.0V607.8H2008.0zM2016.0 592.4H2024.0V607.1H2016.0zM2024.0 588.8H2032.0V604.6H2024.0zM2032.0 587.1H2040.0V600.6H2032.0zM2040.0 585.4H2048.0V600.0H2040.0zM2048.0 580.8H2056.0V596.8H2048.0zM2056.0 579.5H2064.0V595.3H2056.0zM2056.0 578.6H2060.0V591.1H2056.0zM2060.0 577.6H2064.0V593.5H2060.0zM2064.0 572.5H2068.0V590.6H2064.0zM2068.0 573.8H2072.0V586.4H2068.0zM2072.0 571.8H2076.0V585.7H2072.0zM2076.0 569.8H2080.0V582.6H2076.0zM2080.0 567.6H2084.0V581.7H2080.0zM2084.0 562.4H2088.0V579.6H2084.0zM2088.0 563.4H2092.0V577.5H2088.0zM2092.0 561.2H2096.0V575.3H2092.0zM2096.0 558.9H2100.0V572.0H2096.0zM2100.0 556.6H2104.0V572.7H2100.0zM2104.0 554.3H2108.0V567.5H2104.0zM2108.0 552.0H2112.0V565.2H2108.0zM2112.0 549.6H2116.0V562.8H2112.0zM2116.0 545.1H2120.0V562.5H2116.0zM2120.0 543.7H2124.0V558.1H2120.0zM2124.0 541.2H2128.0V557.7H2124.0zM2128.0 539.8H2132.0V553.2H2128.0zM2132.0 535.3H2136.0V551.9H2132.0zM2136.0 534.8H2140.0V548.2H2136.0zM2140.0 532.3H2144.0V545.8H2140.0zM2144.0 530.5H2145.8V544.0H2144.0z"/>
</g>
<g id="labels">
<text transform="translate(219.4,930.8) scale(1,1.02)" font-size="55" text-anchor="middle" fill="#2e2e2e">4</text>
<text transform="translate(700.8,930.8) scale(1,1.02)" font-size="55" text-anchor="middle" fill="#2e2e2e">8</text>
<text transform="translate(1182.2,930.8) scale(1,1.02)" font-size="55" text-anchor="middle" fill="#2e2e2e">12</text>
<text transform="translate(1662.4,930.8) scale(1,1.02)" font-size="55" text-anchor="middle" fill="#2e2e2e">16</text>
<text transform="translate(2142.2,930.8) scale(1,1.02)" font-size="55" text-anchor="middle" fill="#2e2e2e">20</text>
<text transform="translate(197,792.4) scale(1,1.02)" font-size="55" text-anchor="end" fill="#2e2e2e">0.2</text>
<text transform="translate(197,630.1) scale(1,1.02)" font-size="55" text-anchor="end" fill="#2e2e2e">0.4</text>
<text transform="translate(197,467.9) scale(1,1.02)" font-size="55" text-anchor="end" fill="#2e2e2e">0.6</text>
<text transform="translate(197,305.6) scale(1,1.02)" font-size="55" text-anchor="end" fill="#2e2e2e">0.8</text>
<text transform="translate(197,143.4) scale(1,1.02)" font-size="55" text-anchor="end" fill="#2e2e2e">1</text>
<text x="1181" y="1011" font-size="60.5" text-anchor="middle" fill="#2e2e2e">time/s</text>
<text transform="translate(88.2,447) rotate(-90)" font-size="60.5" text-anchor="middle" fill="#2e2e2e">control effectiveness</text>
</g>
<g id="legend">
<rect x="1298.5" y="105.2" width="783.5" height="232.6" fill="#fff" stroke="#454545" stroke-width="2.6"/>
<line x1="1297.2" x2="2083.3" y1="338.7" y2="338.7" stroke="#5c5c5c" stroke-width="3.8"/>
<line x1="1316.6" x2="1461.4" y1="149.8" y2="149.8" stroke="#00ff00" stroke-width="7.3"/>
<text x="1474" y="169.3" font-size="50" letter-spacing="0.05" fill="#050505">Actual value in actuator1</text>
<line x1="1316.6" x2="1461.4" y1="222.3" y2="222.3" stroke="#0072bd" stroke-width="7.3"/>
<text x="1474" y="241.8" font-size="50" letter-spacing="0.22" fill="#050505">Estimated value in [35]</text>
<line x1="1316.6" x2="1461.4" y1="293.3" y2="293.3" stroke="#ff0000" stroke-width="7.3"/>
<text x="1474" y="312.8" font-size="50" letter-spacing="0.2" fill="#050505">Estimated value with FTO</text>
</g>
</g>
</svg>
</body></html>
